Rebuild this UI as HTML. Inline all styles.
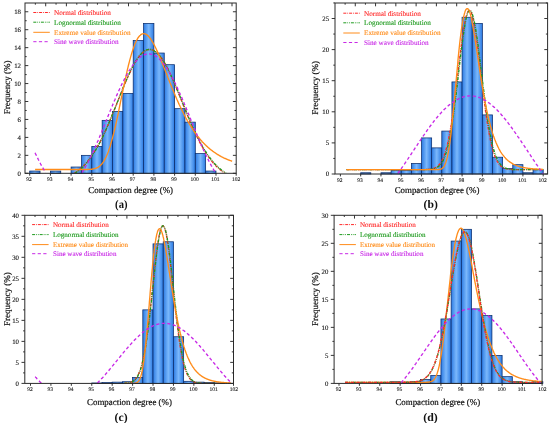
<!DOCTYPE html>
<html><head><meta charset="utf-8"><title>Compaction degree frequency distributions</title>
<style>
html,body{margin:0;padding:0;background:#fff;}
body{width:550px;height:423px;overflow:hidden;}
svg{display:block;text-rendering:geometricPrecision;font-family:"Liberation Serif","DejaVu Serif",serif;}
</style></head><body>
<svg width="550" height="423" viewBox="0 0 550 423">
<defs>
<linearGradient id="bg" x1="0" x2="1" y1="0" y2="0">
<stop offset="0" stop-color="#2c7be3"/><stop offset="0.5" stop-color="#7bb8fc"/><stop offset="1" stop-color="#2c7be3"/>
</linearGradient>
</defs>
<g>
<rect width="550" height="423" fill="#fff"/>
<g class="panel">
<clipPath id="cp0"><rect x="25.00" y="3.00" width="211.20" height="170.30"/></clipPath>
<g fill="url(#bg)" stroke="#0a2c6c" stroke-width="0.75">
<rect x="29.70" y="171.06" width="10.35" height="2.24"/>
<rect x="50.40" y="171.06" width="10.35" height="2.24"/>
<rect x="71.10" y="167.02" width="10.35" height="6.28"/>
<rect x="81.45" y="155.35" width="10.35" height="17.95"/>
<rect x="91.80" y="146.38" width="10.35" height="26.92"/>
<rect x="102.15" y="120.35" width="10.35" height="52.95"/>
<rect x="112.50" y="111.37" width="10.35" height="61.93"/>
<rect x="122.85" y="93.42" width="10.35" height="79.88"/>
<rect x="133.20" y="40.47" width="10.35" height="132.83"/>
<rect x="143.55" y="23.42" width="10.35" height="149.88"/>
<rect x="153.90" y="53.04" width="10.35" height="120.27"/>
<rect x="164.25" y="64.70" width="10.35" height="108.60"/>
<rect x="174.60" y="108.68" width="10.35" height="64.62"/>
<rect x="184.95" y="122.14" width="10.35" height="51.16"/>
<rect x="195.30" y="153.56" width="10.35" height="19.75"/>
<rect x="205.65" y="171.06" width="10.35" height="2.24"/>
</g>
<g fill="none" stroke-width="1.35" clip-path="url(#cp0)" stroke-linejoin="round">
<path d="M74.3 173.2 L74.9 172.9 L75.4 172.5 L76.0 172.2 L76.5 171.8 L77.0 171.4 L77.6 171.0 L78.1 170.6 L78.7 170.2 L79.2 169.8 L79.7 169.3 L80.3 168.9 L80.8 168.4 L81.4 167.9 L81.9 167.4 L82.4 166.9 L83.0 166.4 L83.5 165.9 L84.1 165.3 L84.6 164.8 L85.1 164.2 L85.7 163.6 L86.2 163.0 L86.8 162.3 L87.3 161.7 L87.8 161.0 L88.4 160.4 L88.9 159.7 L89.5 159.0 L90.0 158.2 L90.5 157.5 L91.1 156.7 L91.6 156.0 L92.2 155.2 L92.7 154.4 L93.2 153.6 L93.8 152.7 L94.3 151.9 L94.9 151.0 L95.4 150.1 L95.9 149.2 L96.5 148.3 L97.0 147.3 L97.6 146.4 L98.1 145.4 L98.6 144.4 L99.2 143.4 L99.7 142.4 L100.3 141.4 L100.8 140.3 L101.3 139.3 L101.9 138.2 L102.4 137.1 L103.0 136.0 L103.5 134.8 L104.0 133.7 L104.6 132.5 L105.1 131.4 L105.7 130.2 L106.2 129.0 L106.7 127.8 L107.3 126.6 L107.8 125.3 L108.4 124.1 L108.9 122.8 L109.4 121.6 L110.0 120.3 L110.5 119.0 L111.1 117.7 L111.6 116.4 L112.1 115.1 L112.7 113.8 L113.2 112.5 L113.8 111.2 L114.3 109.8 L114.8 108.5 L115.4 107.1 L115.9 105.8 L116.5 104.5 L117.0 103.1 L117.5 101.8 L118.1 100.4 L118.6 99.1 L119.2 97.7 L119.7 96.4 L120.2 95.0 L120.8 93.7 L121.3 92.4 L121.9 91.0 L122.4 89.7 L122.9 88.4 L123.5 87.1 L124.0 85.8 L124.6 84.5 L125.1 83.2 L125.6 82.0 L126.2 80.7 L126.7 79.5 L127.3 78.2 L127.8 77.0 L128.3 75.8 L128.9 74.7 L129.4 73.5 L130.0 72.4 L130.5 71.2 L131.0 70.1 L131.6 69.0 L132.1 68.0 L132.7 66.9 L133.2 65.9 L133.7 64.9 L134.3 64.0 L134.8 63.0 L135.4 62.1 L135.9 61.2 L136.4 60.4 L137.0 59.5 L137.5 58.7 L138.1 57.9 L138.6 57.2 L139.1 56.5 L139.7 55.8 L140.2 55.2 L140.8 54.5 L141.3 54.0 L141.8 53.4 L142.4 52.9 L142.9 52.4 L143.5 52.0 L144.0 51.6 L144.5 51.2 L145.1 50.8 L145.6 50.5 L146.2 50.3 L146.7 50.0 L147.2 49.9 L147.8 49.7 L148.3 49.6 L148.9 49.5 L149.4 49.5 L149.9 49.4 L150.5 49.5 L151.0 49.5 L151.6 49.7 L152.1 49.8 L152.6 50.0 L153.2 50.2 L153.7 50.4 L154.3 50.7 L154.8 51.1 L155.3 51.4 L155.9 51.8 L156.4 52.3 L157.0 52.7 L157.5 53.2 L158.0 53.8 L158.6 54.3 L159.1 54.9 L159.7 55.6 L160.2 56.3 L160.7 57.0 L161.3 57.7 L161.8 58.5 L162.4 59.2 L162.9 60.1 L163.4 60.9 L164.0 61.8 L164.5 62.7 L165.1 63.6 L165.6 64.6 L166.1 65.6 L166.7 66.6 L167.2 67.6 L167.8 68.7 L168.3 69.8 L168.8 70.9 L169.4 72.0 L169.9 73.1 L170.5 74.3 L171.0 75.4 L171.5 76.6 L172.1 77.8 L172.6 79.1 L173.2 80.3 L173.7 81.5 L174.2 82.8 L174.8 84.1 L175.3 85.4 L175.9 86.7 L176.4 88.0 L176.9 89.3 L177.5 90.6 L178.0 91.9 L178.6 93.3 L179.1 94.6 L179.6 95.9 L180.2 97.3 L180.7 98.6 L181.3 100.0 L181.8 101.3 L182.3 102.7 L182.9 104.0 L183.4 105.4 L184.0 106.7 L184.5 108.0 L185.0 109.4 L185.6 110.7 L186.1 112.0 L186.7 113.4 L187.2 114.7 L187.7 116.0 L188.3 117.3 L188.8 118.6 L189.4 119.9 L189.9 121.2 L190.4 122.4 L191.0 123.7 L191.5 124.9 L192.1 126.2 L192.6 127.4 L193.1 128.6 L193.7 129.8 L194.2 131.0 L194.8 132.1 L195.3 133.3 L195.8 134.5 L196.4 135.6 L196.9 136.7 L197.5 137.8 L198.0 138.9 L198.5 140.0 L199.1 141.0 L199.6 142.1 L200.2 143.1 L200.7 144.1 L201.2 145.1 L201.8 146.1 L202.3 147.0 L202.9 148.0 L203.4 148.9 L203.9 149.8 L204.5 150.7 L205.0 151.6 L205.6 152.4 L206.1 153.3 L206.6 154.1 L207.2 154.9 L207.7 155.7 L208.3 156.5 L208.8 157.3 L209.3 158.0 L209.9 158.7 L210.4 159.4 L211.0 160.1 L211.5 160.8 L212.0 161.5 L212.6 162.1 L213.1 162.8 L213.7 163.4 L214.2 164.0 L214.7 164.6 L215.3 165.1 L215.8 165.7 L216.4 166.2 L216.9 166.8 L217.4 167.3 L218.0 167.8 L218.5 168.3 L219.1 168.7 L219.6 169.2 L220.1 169.6 L220.7 170.1 L221.2 170.5 L221.8 170.9 L222.3 171.3 L222.8 171.7 L223.4 172.1 L223.9 172.4 L224.5 172.8 L225.0 173.1" stroke="#ff2a2a" stroke-dasharray="3 1 .8 1"/>
<path d="M74.9 173.2 L75.4 172.9 L76.0 172.5 L76.5 172.2 L77.0 171.8 L77.6 171.4 L78.1 171.0 L78.7 170.6 L79.2 170.2 L79.7 169.8 L80.3 169.3 L80.8 168.8 L81.4 168.4 L81.9 167.9 L82.4 167.4 L83.0 166.9 L83.5 166.3 L84.1 165.8 L84.6 165.2 L85.1 164.6 L85.7 164.0 L86.2 163.4 L86.8 162.8 L87.3 162.2 L87.8 161.5 L88.4 160.8 L88.9 160.2 L89.5 159.4 L90.0 158.7 L90.5 158.0 L91.1 157.2 L91.6 156.5 L92.2 155.7 L92.7 154.9 L93.2 154.0 L93.8 153.2 L94.3 152.4 L94.9 151.5 L95.4 150.6 L95.9 149.7 L96.5 148.8 L97.0 147.8 L97.6 146.9 L98.1 145.9 L98.6 144.9 L99.2 143.9 L99.7 142.8 L100.3 141.8 L100.8 140.7 L101.3 139.7 L101.9 138.6 L102.4 137.5 L103.0 136.4 L103.5 135.2 L104.0 134.1 L104.6 132.9 L105.1 131.7 L105.7 130.5 L106.2 129.3 L106.7 128.1 L107.3 126.9 L107.8 125.6 L108.4 124.4 L108.9 123.1 L109.4 121.8 L110.0 120.5 L110.5 119.2 L111.1 117.9 L111.6 116.6 L112.1 115.3 L112.7 114.0 L113.2 112.6 L113.8 111.3 L114.3 109.9 L114.8 108.6 L115.4 107.2 L115.9 105.9 L116.5 104.5 L117.0 103.1 L117.5 101.8 L118.1 100.4 L118.6 99.0 L119.2 97.7 L119.7 96.3 L120.2 95.0 L120.8 93.6 L121.3 92.2 L121.9 90.9 L122.4 89.6 L122.9 88.2 L123.5 86.9 L124.0 85.6 L124.6 84.3 L125.1 83.0 L125.6 81.7 L126.2 80.5 L126.7 79.2 L127.3 78.0 L127.8 76.7 L128.3 75.5 L128.9 74.3 L129.4 73.2 L130.0 72.0 L130.5 70.9 L131.0 69.8 L131.6 68.7 L132.1 67.6 L132.7 66.6 L133.2 65.5 L133.7 64.5 L134.3 63.6 L134.8 62.6 L135.4 61.7 L135.9 60.8 L136.4 60.0 L137.0 59.1 L137.5 58.3 L138.1 57.6 L138.6 56.8 L139.1 56.1 L139.7 55.5 L140.2 54.8 L140.8 54.2 L141.3 53.6 L141.8 53.1 L142.4 52.6 L142.9 52.1 L143.5 51.7 L144.0 51.3 L144.5 51.0 L145.1 50.6 L145.6 50.4 L146.2 50.1 L146.7 49.9 L147.2 49.7 L147.8 49.6 L148.3 49.5 L148.9 49.5 L149.4 49.4 L149.9 49.5 L150.5 49.5 L151.0 49.6 L151.6 49.7 L152.1 49.9 L152.6 50.1 L153.2 50.3 L153.7 50.6 L154.3 50.9 L154.8 51.3 L155.3 51.6 L155.9 52.1 L156.4 52.5 L157.0 53.0 L157.5 53.5 L158.0 54.0 L158.6 54.6 L159.1 55.2 L159.7 55.9 L160.2 56.5 L160.7 57.2 L161.3 58.0 L161.8 58.7 L162.4 59.5 L162.9 60.3 L163.4 61.2 L164.0 62.0 L164.5 62.9 L165.1 63.8 L165.6 64.8 L166.1 65.8 L166.7 66.8 L167.2 67.8 L167.8 68.8 L168.3 69.9 L168.8 70.9 L169.4 72.0 L169.9 73.2 L170.5 74.3 L171.0 75.4 L171.5 76.6 L172.1 77.8 L172.6 79.0 L173.2 80.2 L173.7 81.4 L174.2 82.7 L174.8 83.9 L175.3 85.2 L175.9 86.4 L176.4 87.7 L176.9 89.0 L177.5 90.3 L178.0 91.6 L178.6 92.9 L179.1 94.2 L179.6 95.5 L180.2 96.8 L180.7 98.2 L181.3 99.5 L181.8 100.8 L182.3 102.1 L182.9 103.5 L183.4 104.8 L184.0 106.1 L184.5 107.4 L185.0 108.7 L185.6 110.0 L186.1 111.3 L186.7 112.6 L187.2 113.9 L187.7 115.2 L188.3 116.5 L188.8 117.8 L189.4 119.1 L189.9 120.3 L190.4 121.6 L191.0 122.8 L191.5 124.0 L192.1 125.2 L192.6 126.5 L193.1 127.7 L193.7 128.8 L194.2 130.0 L194.8 131.2 L195.3 132.3 L195.8 133.5 L196.4 134.6 L196.9 135.7 L197.5 136.8 L198.0 137.9 L198.5 138.9 L199.1 140.0 L199.6 141.0 L200.2 142.0 L200.7 143.0 L201.2 144.0 L201.8 145.0 L202.3 146.0 L202.9 146.9 L203.4 147.8 L203.9 148.8 L204.5 149.7 L205.0 150.5 L205.6 151.4 L206.1 152.2 L206.6 153.1 L207.2 153.9 L207.7 154.7 L208.3 155.5 L208.8 156.2 L209.3 157.0 L209.9 157.7 L210.4 158.5 L211.0 159.2 L211.5 159.8 L212.0 160.5 L212.6 161.2 L213.1 161.8 L213.7 162.4 L214.2 163.1 L214.7 163.7 L215.3 164.2 L215.8 164.8 L216.4 165.4 L216.9 165.9 L217.4 166.4 L218.0 166.9 L218.5 167.4 L219.1 167.9 L219.6 168.4 L220.1 168.9 L220.7 169.3 L221.2 169.7 L221.8 170.2 L222.3 170.6 L222.8 171.0 L223.4 171.4 L223.9 171.7 L224.5 172.1 L225.0 172.5 L225.5 172.8 L226.1 173.1" stroke="#1e9a1e" stroke-dasharray="3 1 .8 1 .8 1"/>
<path d="M35.1 169.5 L35.6 169.5 L36.1 169.5 L36.6 169.5 L37.1 169.5 L37.6 169.5 L38.0 169.5 L38.5 169.5 L39.0 169.5 L39.5 169.5 L40.0 169.5 L40.5 169.5 L41.0 169.5 L41.5 169.5 L42.0 169.5 L42.5 169.5 L43.0 169.5 L43.5 169.5 L44.0 169.5 L44.5 169.5 L45.0 169.5 L45.5 169.5 L45.9 169.5 L46.4 169.5 L46.9 169.5 L47.4 169.5 L47.9 169.5 L48.4 169.5 L48.9 169.5 L49.4 169.5 L49.9 169.5 L50.4 169.5 L50.9 169.5 L51.4 169.5 L51.9 169.5 L52.4 169.5 L52.9 169.5 L53.4 169.5 L53.9 169.5 L54.3 169.5 L54.8 169.5 L55.3 169.5 L55.8 169.5 L56.3 169.5 L56.8 169.5 L57.3 169.5 L57.8 169.5 L58.3 169.5 L58.8 169.5 L59.3 169.5 L59.8 169.5 L60.3 169.5 L60.8 169.5 L61.3 169.5 L61.8 169.5 L62.2 169.5 L62.7 169.5 L63.2 169.5 L63.7 169.5 L64.2 169.5 L64.7 169.5 L65.2 169.5 L65.7 169.5 L66.2 169.5 L66.7 169.5 L67.2 169.5 L67.7 169.5 L68.2 169.5 L68.7 169.5 L69.2 169.5 L69.7 169.5 L70.1 169.5 L70.6 169.5 L71.1 169.5 L71.6 169.5 L72.1 169.5 L72.6 169.5 L73.1 169.5 L73.6 169.5 L74.1 169.5 L74.6 169.5 L75.1 169.5 L75.6 169.5 L76.1 169.5 L76.6 169.5 L77.1 169.5 L77.6 169.5 L78.1 169.5 L78.5 169.5 L79.0 169.5 L79.5 169.5 L80.0 169.5 L80.5 169.5 L81.0 169.5 L81.5 169.5 L82.0 169.5 L82.5 169.5 L83.0 169.5 L83.5 169.5 L84.0 169.5 L84.5 169.5 L85.0 169.5 L85.5 169.5 L86.0 169.5 L86.4 169.5 L86.9 169.5 L87.4 169.5 L87.9 169.5 L88.4 169.4 L88.9 169.4 L89.4 169.4 L89.9 169.4 L90.4 169.3 L90.9 169.3 L91.4 169.2 L91.9 169.2 L92.4 169.1 L92.9 169.0 L93.4 168.9 L93.9 168.8 L94.3 168.7 L94.8 168.6 L95.3 168.4 L95.8 168.3 L96.3 168.1 L96.8 167.9 L97.3 167.6 L97.8 167.4 L98.3 167.1 L98.8 166.7 L99.3 166.4 L99.8 166.0 L100.3 165.6 L100.8 165.1 L101.3 164.6 L101.8 164.0 L102.3 163.4 L102.7 162.8 L103.2 162.1 L103.7 161.3 L104.2 160.5 L104.7 159.6 L105.2 158.7 L105.7 157.7 L106.2 156.7 L106.7 155.6 L107.2 154.4 L107.7 153.2 L108.2 151.9 L108.7 150.5 L109.2 149.1 L109.7 147.6 L110.2 146.1 L110.6 144.5 L111.1 142.8 L111.6 141.1 L112.1 139.3 L112.6 137.4 L113.1 135.5 L113.6 133.6 L114.1 131.6 L114.6 129.5 L115.1 127.4 L115.6 125.3 L116.1 123.1 L116.6 120.8 L117.1 118.6 L117.6 116.3 L118.1 114.0 L118.6 111.6 L119.0 109.3 L119.5 106.9 L120.0 104.5 L120.5 102.1 L121.0 99.7 L121.5 97.3 L122.0 94.9 L122.5 92.5 L123.0 90.1 L123.5 87.7 L124.0 85.4 L124.5 83.0 L125.0 80.7 L125.5 78.4 L126.0 76.2 L126.5 74.0 L126.9 71.8 L127.4 69.7 L127.9 67.6 L128.4 65.5 L128.9 63.5 L129.4 61.6 L129.9 59.7 L130.4 57.9 L130.9 56.1 L131.4 54.4 L131.9 52.8 L132.4 51.2 L132.9 49.7 L133.4 48.2 L133.9 46.8 L134.4 45.5 L134.8 44.3 L135.3 43.1 L135.8 42.0 L136.3 40.9 L136.8 40.0 L137.3 39.1 L137.8 38.2 L138.3 37.5 L138.8 36.8 L139.3 36.2 L139.8 35.6 L140.3 35.2 L140.8 34.7 L141.3 34.4 L141.8 34.1 L142.3 33.9 L142.8 33.8 L143.2 33.7 L143.7 33.6 L144.2 33.7 L144.7 33.8 L145.2 33.9 L145.7 34.1 L146.2 34.4 L146.7 34.7 L147.2 35.1 L147.7 35.5 L148.2 36.0 L148.7 36.5 L149.2 37.1 L149.7 37.7 L150.2 38.3 L150.7 39.0 L151.1 39.7 L151.6 40.5 L152.1 41.3 L152.6 42.1 L153.1 43.0 L153.6 43.9 L154.1 44.8 L154.6 45.8 L155.1 46.8 L155.6 47.8 L156.1 48.8 L156.6 49.9 L157.1 50.9 L157.6 52.0 L158.1 53.2 L158.6 54.3 L159.0 55.4 L159.5 56.6 L160.0 57.8 L160.5 59.0 L161.0 60.2 L161.5 61.4 L162.0 62.6 L162.5 63.8 L163.0 65.1 L163.5 66.3 L164.0 67.6 L164.5 68.8 L165.0 70.1 L165.5 71.3 L166.0 72.6 L166.5 73.8 L167.0 75.1 L167.4 76.3 L167.9 77.6 L168.4 78.8 L168.9 80.1 L169.4 81.3 L169.9 82.6 L170.4 83.8 L170.9 85.0 L171.4 86.2 L171.9 87.5 L172.4 88.7 L172.9 89.9 L173.4 91.1 L173.9 92.3 L174.4 93.4 L174.9 94.6 L175.3 95.8 L175.8 96.9 L176.3 98.0 L176.8 99.2 L177.3 100.3 L177.8 101.4 L178.3 102.5 L178.8 103.6 L179.3 104.7 L179.8 105.7 L180.3 106.8 L180.8 107.8 L181.3 108.8 L181.8 109.9 L182.3 110.9 L182.8 111.9 L183.3 112.8 L183.7 113.8 L184.2 114.8 L184.7 115.7 L185.2 116.6 L185.7 117.6 L186.2 118.5 L186.7 119.4 L187.2 120.3 L187.7 121.1 L188.2 122.0 L188.7 122.8 L189.2 123.7 L189.7 124.5 L190.2 125.3 L190.7 126.1 L191.2 126.9 L191.6 127.7 L192.1 128.4 L192.6 129.2 L193.1 129.9 L193.6 130.6 L194.1 131.4 L194.6 132.1 L195.1 132.8 L195.6 133.4 L196.1 134.1 L196.6 134.8 L197.1 135.4 L197.6 136.1 L198.1 136.7 L198.6 137.3 L199.1 137.9 L199.5 138.5 L200.0 139.1 L200.5 139.7 L201.0 140.3 L201.5 140.8 L202.0 141.4 L202.5 141.9 L203.0 142.4 L203.5 143.0 L204.0 143.5 L204.5 144.0 L205.0 144.5 L205.5 145.0 L206.0 145.4 L206.5 145.9 L207.0 146.4 L207.5 146.8 L207.9 147.3 L208.4 147.7 L208.9 148.1 L209.4 148.5 L209.9 149.0 L210.4 149.4 L210.9 149.8 L211.4 150.1 L211.9 150.5 L212.4 150.9 L212.9 151.3 L213.4 151.6 L213.9 152.0 L214.4 152.3 L214.9 152.7 L215.4 153.0 L215.8 153.3 L216.3 153.7 L216.8 154.0 L217.3 154.3 L217.8 154.6 L218.3 154.9 L218.8 155.2 L219.3 155.5 L219.8 155.8 L220.3 156.0 L220.8 156.3 L221.3 156.6 L221.8 156.8 L222.3 157.1 L222.8 157.3 L223.3 157.6 L223.7 157.8 L224.2 158.1 L224.7 158.3 L225.2 158.5 L225.7 158.7 L226.2 159.0 L226.7 159.2 L227.2 159.4 L227.7 159.6 L228.2 159.8 L228.7 160.0 L229.2 160.2 L229.7 160.4 L230.2 160.6 L230.7 160.7 L231.2 160.9 L231.7 161.1 L232.1 161.3" stroke="#ff8c1a"/>
<path d="M35.1 152.8 L35.5 153.8 L36.0 154.7 L36.5 155.7 L36.9 156.7 L37.4 157.6 L37.9 158.6 L38.3 159.5 L38.8 160.4 L39.3 161.3 L39.7 162.2 L40.2 163.1 L40.6 164.0 L41.1 164.8 L41.6 165.7 L42.0 166.5 L42.5 167.3 L43.0 168.1 L43.4 168.9 L43.9 169.7 L44.4 170.5 L44.8 171.2 L45.3 172.0 L45.7 172.7 M81.9 172.7 L82.4 172.0 L82.9 171.2 L83.3 170.5 L83.8 169.7 L84.2 169.0 L84.7 168.2 L85.2 167.4 L85.6 166.5 L86.1 165.7 L86.6 164.9 L87.0 164.0 L87.5 163.1 L88.0 162.3 L88.4 161.4 L88.9 160.5 L89.3 159.5 L89.8 158.6 L90.3 157.7 L90.7 156.7 L91.2 155.7 L91.7 154.8 L92.1 153.8 L92.6 152.8 L93.1 151.8 L93.5 150.8 L94.0 149.8 L94.4 148.7 L94.9 147.7 L95.4 146.6 L95.8 145.6 L96.3 144.5 L96.8 143.5 L97.2 142.4 L97.7 141.3 L98.2 140.2 L98.6 139.1 L99.1 138.0 L99.6 136.9 L100.0 135.8 L100.5 134.7 L100.9 133.6 L101.4 132.5 L101.9 131.3 L102.3 130.2 L102.8 129.1 L103.3 127.9 L103.7 126.8 L104.2 125.7 L104.7 124.5 L105.1 123.4 L105.6 122.2 L106.0 121.1 L106.5 119.9 L107.0 118.8 L107.4 117.7 L107.9 116.5 L108.4 115.4 L108.8 114.2 L109.3 113.1 L109.8 112.0 L110.2 110.8 L110.7 109.7 L111.1 108.6 L111.6 107.5 L112.1 106.3 L112.5 105.2 L113.0 104.1 L113.5 103.0 L113.9 101.9 L114.4 100.8 L114.9 99.7 L115.3 98.7 L115.8 97.6 L116.2 96.5 L116.7 95.4 L117.2 94.4 L117.6 93.3 L118.1 92.3 L118.6 91.3 L119.0 90.3 L119.5 89.2 L120.0 88.2 L120.4 87.2 L120.9 86.3 L121.3 85.3 L121.8 84.3 L122.3 83.4 L122.7 82.4 L123.2 81.5 L123.7 80.6 L124.1 79.7 L124.6 78.8 L125.1 77.9 L125.5 77.0 L126.0 76.1 L126.5 75.3 L126.9 74.5 L127.4 73.6 L127.8 72.8 L128.3 72.1 L128.8 71.3 L129.2 70.5 L129.7 69.8 L130.2 69.0 L130.6 68.3 L131.1 67.6 L131.6 66.9 L132.0 66.3 L132.5 65.6 L132.9 65.0 L133.4 64.3 L133.9 63.7 L134.3 63.1 L134.8 62.6 L135.3 62.0 L135.7 61.5 L136.2 61.0 L136.7 60.5 L137.1 60.0 L137.6 59.5 L138.0 59.1 L138.5 58.6 L139.0 58.2 L139.4 57.8 L139.9 57.4 L140.4 57.1 L140.8 56.7 L141.3 56.4 L141.8 56.1 L142.2 55.8 L142.7 55.6 L143.1 55.3 L143.6 55.1 L144.1 54.9 L144.5 54.7 L145.0 54.5 L145.5 54.4 L145.9 54.3 L146.4 54.2 L146.9 54.1 L147.3 54.0 L147.8 53.9 L148.3 53.9 L148.7 53.9 L149.2 53.9 L149.6 53.9 L150.1 54.0 L150.6 54.1 L151.0 54.1 L151.5 54.3 L152.0 54.4 L152.4 54.5 L152.9 54.7 L153.4 54.9 L153.8 55.1 L154.3 55.3 L154.7 55.5 L155.2 55.8 L155.7 56.1 L156.1 56.4 L156.6 56.7 L157.1 57.0 L157.5 57.4 L158.0 57.8 L158.5 58.2 L158.9 58.6 L159.4 59.0 L159.8 59.4 L160.3 59.9 L160.8 60.4 L161.2 60.9 L161.7 61.4 L162.2 61.9 L162.6 62.5 L163.1 63.1 L163.6 63.7 L164.0 64.3 L164.5 64.9 L164.9 65.5 L165.4 66.2 L165.9 66.8 L166.3 67.5 L166.8 68.2 L167.3 68.9 L167.7 69.7 L168.2 70.4 L168.7 71.2 L169.1 71.9 L169.6 72.7 L170.0 73.5 L170.5 74.4 L171.0 75.2 L171.4 76.0 L171.9 76.9 L172.4 77.8 L172.8 78.6 L173.3 79.5 L173.8 80.4 L174.2 81.4 L174.7 82.3 L175.2 83.2 L175.6 84.2 L176.1 85.1 L176.5 86.1 L177.0 87.1 L177.5 88.1 L177.9 89.1 L178.4 90.1 L178.9 91.1 L179.3 92.2 L179.8 93.2 L180.3 94.2 L180.7 95.3 L181.2 96.4 L181.6 97.4 L182.1 98.5 L182.6 99.6 L183.0 100.7 L183.5 101.8 L184.0 102.9 L184.4 104.0 L184.9 105.1 L185.4 106.2 L185.8 107.3 L186.3 108.4 L186.7 109.6 L187.2 110.7 L187.7 111.8 L188.1 113.0 L188.6 114.1 L189.1 115.2 L189.5 116.4 L190.0 117.5 L190.5 118.7 L190.9 119.8 L191.4 120.9 L191.8 122.1 L192.3 123.2 L192.8 124.4 L193.2 125.5 L193.7 126.6 L194.2 127.8 L194.6 128.9 L195.1 130.0 L195.6 131.2 L196.0 132.3 L196.5 133.4 L196.9 134.5 L197.4 135.7 L197.9 136.8 L198.3 137.9 L198.8 139.0 L199.3 140.1 L199.7 141.2 L200.2 142.2 L200.7 143.3 L201.1 144.4 L201.6 145.4 L202.1 146.5 L202.5 147.5 L203.0 148.6 L203.4 149.6 L203.9 150.6 L204.4 151.7 L204.8 152.7 L205.3 153.7 L205.8 154.6 L206.2 155.6 L206.7 156.6 L207.2 157.5 L207.6 158.5 L208.1 159.4 L208.5 160.3 L209.0 161.2 L209.5 162.1 L209.9 163.0 L210.4 163.9 L210.9 164.8 L211.3 165.6 L211.8 166.4 L212.3 167.3 L212.7 168.1 L213.2 168.9 L213.6 169.6 L214.1 170.4 L214.6 171.1 L215.0 171.9 L215.5 172.6 L216.0 173.3" stroke="#c828e6" stroke-dasharray="3.2 2.4"/>
</g>
<rect x="25.00" y="3.00" width="211.20" height="170.30" fill="none" stroke="#2a2a2a" stroke-width="1"/>
<path d="M29.70 173.30 v2.40 M50.40 173.30 v2.40 M71.10 173.30 v2.40 M91.80 173.30 v2.40 M112.50 173.30 v2.40 M133.20 173.30 v2.40 M153.90 173.30 v2.40 M174.60 173.30 v2.40 M195.30 173.30 v2.40 M216.00 173.30 v2.40 M236.20 173.30 v2.40 M35.35 3.00 v1.70 M45.70 3.00 v3.30 M56.05 3.00 v1.70 M66.40 3.00 v3.30 M76.75 3.00 v1.70 M87.10 3.00 v3.30 M97.45 3.00 v1.70 M107.80 3.00 v3.30 M118.15 3.00 v1.70 M128.50 3.00 v3.30 M138.85 3.00 v1.70 M149.20 3.00 v3.30 M159.55 3.00 v1.70 M169.90 3.00 v3.30 M180.25 3.00 v1.70 M190.60 3.00 v3.30 M200.95 3.00 v1.70 M211.30 3.00 v3.30 M221.65 3.00 v1.70 M232.00 3.00 v3.30 M25.00 173.30 h3.30 M236.20 173.30 h-3.30 M25.00 164.33 h1.70 M236.20 164.33 h-1.70 M25.00 155.35 h3.30 M236.20 155.35 h-3.30 M25.00 146.38 h1.70 M236.20 146.38 h-1.70 M25.00 137.40 h3.30 M236.20 137.40 h-3.30 M25.00 128.43 h1.70 M236.20 128.43 h-1.70 M25.00 119.45 h3.30 M236.20 119.45 h-3.30 M25.00 110.48 h1.70 M236.20 110.48 h-1.70 M25.00 101.50 h3.30 M236.20 101.50 h-3.30 M25.00 92.53 h1.70 M236.20 92.53 h-1.70 M25.00 83.55 h3.30 M236.20 83.55 h-3.30 M25.00 74.58 h1.70 M236.20 74.58 h-1.70 M25.00 65.60 h3.30 M236.20 65.60 h-3.30 M25.00 56.63 h1.70 M236.20 56.63 h-1.70 M25.00 47.65 h3.30 M236.20 47.65 h-3.30 M25.00 38.68 h1.70 M236.20 38.68 h-1.70 M25.00 29.70 h3.30 M236.20 29.70 h-3.30 M25.00 20.73 h1.70 M236.20 20.73 h-1.70 M25.00 11.75 h3.30 M236.20 11.75 h-3.30" stroke="#2a2a2a" stroke-width="0.95" fill="none"/>
<g font-size="5.5" text-anchor="middle" fill="#222" stroke="#222" stroke-width="0.1">
<text x="29.10" y="181.20">92</text>
<text x="49.80" y="181.20">93</text>
<text x="70.50" y="181.20">94</text>
<text x="91.20" y="181.20">95</text>
<text x="111.90" y="181.20">96</text>
<text x="132.60" y="181.20">97</text>
<text x="153.30" y="181.20">98</text>
<text x="174.00" y="181.20">99</text>
<text x="194.70" y="181.20">100</text>
<text x="215.40" y="181.20">101</text>
<text x="236.10" y="181.20">102</text>
</g>
<g font-size="6.8" text-anchor="end" fill="#111" stroke="#111" stroke-width="0.12">
<text x="21.00" y="175.65">0</text>
<text x="21.00" y="157.70">2</text>
<text x="21.00" y="139.75">4</text>
<text x="21.00" y="121.80">6</text>
<text x="21.00" y="103.85">8</text>
<text x="21.00" y="85.90">10</text>
<text x="21.00" y="67.95">12</text>
<text x="21.00" y="50.00">14</text>
<text x="21.00" y="32.05">16</text>
<text x="21.00" y="14.10">18</text>
</g>
<text x="130.70" y="192.50" font-size="8.9" text-anchor="middle" fill="#111" stroke="#111" stroke-width="0.18">Compaction degree (%)</text>
<text transform="translate(9.90 87.30) rotate(-90)" font-size="9" text-anchor="middle" fill="#111" stroke="#111" stroke-width="0.18">Frequency (%)</text>
<path d="M33.30 12.50 h16.5" stroke="#ff2a2a" stroke-width="1" fill="none" stroke-dasharray="3 1 .8 1"/>
<text x="54.00" y="14.90" font-size="7.20" fill="#ff2a2a" stroke="#ff2a2a" stroke-width="0.12">Normal distribution</text>
<path d="M33.30 22.20 h16.5" stroke="#1e9a1e" stroke-width="1" fill="none" stroke-dasharray="3 1 .8 1 .8 1"/>
<text x="54.00" y="24.60" font-size="7.20" fill="#1e9a1e" stroke="#1e9a1e" stroke-width="0.12">Lognormal distribution</text>
<path d="M33.30 32.30 h16.5" stroke="#ff8c1a" stroke-width="1" fill="none"/>
<text x="54.00" y="34.70" font-size="7.20" fill="#ff8c1a" stroke="#ff8c1a" stroke-width="0.12">Extreme value distribution</text>
<path d="M33.30 41.70 h16.5" stroke="#c828e6" stroke-width="1" fill="none" stroke-dasharray="3.2 2.4"/>
<text x="54.00" y="44.10" font-size="7.20" fill="#c828e6" stroke="#c828e6" stroke-width="0.12">Sine wave distribution</text>
<text x="121.30" y="208.10" font-size="11.5" font-weight="bold" text-anchor="middle" textLength="12.4" lengthAdjust="spacingAndGlyphs" fill="#111">(a)</text>
</g>
<g class="panel">
<clipPath id="cp1"><rect x="335.00" y="3.00" width="212.60" height="171.00"/></clipPath>
<g fill="url(#bg)" stroke="#0a2c6c" stroke-width="0.75">
<rect x="360.68" y="172.76" width="10.14" height="1.24"/>
<rect x="380.96" y="172.76" width="10.14" height="1.24"/>
<rect x="391.10" y="170.27" width="10.14" height="3.73"/>
<rect x="401.24" y="170.27" width="10.14" height="3.73"/>
<rect x="411.38" y="163.43" width="10.14" height="10.57"/>
<rect x="421.52" y="137.92" width="10.14" height="36.08"/>
<rect x="431.66" y="147.88" width="10.14" height="26.12"/>
<rect x="441.80" y="131.08" width="10.14" height="42.92"/>
<rect x="451.94" y="81.94" width="10.14" height="92.06"/>
<rect x="462.08" y="17.26" width="10.14" height="156.74"/>
<rect x="472.22" y="23.48" width="10.14" height="150.52"/>
<rect x="482.36" y="114.91" width="10.14" height="59.09"/>
<rect x="492.50" y="157.21" width="10.14" height="16.79"/>
<rect x="502.64" y="168.40" width="10.14" height="5.60"/>
<rect x="512.78" y="164.67" width="10.14" height="9.33"/>
<rect x="522.92" y="172.76" width="10.14" height="1.24"/>
<rect x="533.06" y="169.65" width="10.14" height="4.35"/>
</g>
<g fill="none" stroke-width="1.35" clip-path="url(#cp1)" stroke-linejoin="round">
<path d="M346.5 169.6 L346.9 169.6 L347.3 169.6 L347.7 169.6 L348.1 169.6 L348.5 169.6 L348.8 169.6 L349.2 169.6 L349.6 169.6 L350.0 169.6 L350.4 169.6 L350.8 169.6 L351.2 169.6 L351.6 169.6 L352.0 169.6 L352.4 169.6 L352.8 169.6 L353.2 169.6 L353.6 169.6 L354.0 169.6 L354.4 169.6 L354.8 169.6 L355.2 169.6 L355.6 169.6 L355.9 169.6 L356.3 169.6 L356.7 169.6 L357.1 169.6 L357.5 169.6 L357.9 169.6 L358.3 169.6 L358.7 169.6 L359.1 169.6 L359.5 169.6 L359.9 169.6 L360.3 169.6 L360.7 169.6 L361.1 169.6 L361.5 169.6 L361.9 169.6 L362.3 169.6 L362.6 169.6 L363.0 169.6 L363.4 169.6 L363.8 169.6 L364.2 169.6 L364.6 169.6 L365.0 169.6 L365.4 169.6 L365.8 169.6 L366.2 169.6 L366.6 169.6 L367.0 169.6 L367.4 169.6 L367.8 169.6 L368.2 169.6 L368.6 169.6 L369.0 169.6 L369.3 169.6 L369.7 169.6 L370.1 169.6 L370.5 169.6 L370.9 169.6 L371.3 169.6 L371.7 169.6 L372.1 169.6 L372.5 169.6 L372.9 169.6 L373.3 169.6 L373.7 169.6 L374.1 169.6 L374.5 169.6 L374.9 169.6 L375.3 169.6 L375.7 169.6 L376.1 169.6 L376.4 169.6 L376.8 169.6 L377.2 169.6 L377.6 169.6 L378.0 169.6 L378.4 169.6 L378.8 169.6 L379.2 169.6 L379.6 169.6 L380.0 169.6 L380.4 169.6 L380.8 169.6 L381.2 169.6 L381.6 169.6 L382.0 169.6 L382.4 169.6 L382.8 169.6 L383.1 169.6 L383.5 169.6 L383.9 169.6 L384.3 169.6 L384.7 169.6 L385.1 169.6 L385.5 169.6 L385.9 169.6 L386.3 169.6 L386.7 169.6 L387.1 169.6 L387.5 169.6 L387.9 169.6 L388.3 169.6 L388.7 169.6 L389.1 169.6 L389.5 169.6 L389.8 169.6 L390.2 169.6 L390.6 169.6 L391.0 169.6 L391.4 169.6 L391.8 169.6 L392.2 169.6 L392.6 169.6 L393.0 169.6 L393.4 169.6 L393.8 169.6 L394.2 169.6 L394.6 169.6 L395.0 169.6 L395.4 169.6 L395.8 169.6 L396.2 169.6 L396.5 169.6 L396.9 169.6 L397.3 169.6 L397.7 169.6 L398.1 169.6 L398.5 169.6 L398.9 169.6 L399.3 169.6 L399.7 169.6 L400.1 169.6 L400.5 169.6 L400.9 169.6 L401.3 169.6 L401.7 169.6 L402.1 169.6 L402.5 169.6 L402.9 169.6 L403.3 169.6 L403.6 169.6 L404.0 169.6 L404.4 169.6 L404.8 169.6 L405.2 169.6 L405.6 169.6 L406.0 169.6 L406.4 169.6 L406.8 169.6 L407.2 169.6 L407.6 169.6 L408.0 169.6 L408.4 169.6 L408.8 169.6 L409.2 169.6 L409.6 169.6 L410.0 169.6 L410.3 169.6 L410.7 169.6 L411.1 169.6 L411.5 169.6 L411.9 169.6 L412.3 169.6 L412.7 169.6 L413.1 169.6 L413.5 169.6 L413.9 169.6 L414.3 169.6 L414.7 169.6 L415.1 169.6 L415.5 169.6 L415.9 169.6 L416.3 169.6 L416.7 169.6 L417.0 169.6 L417.4 169.6 L417.8 169.6 L418.2 169.6 L418.6 169.6 L419.0 169.6 L419.4 169.6 L419.8 169.6 L420.2 169.6 L420.6 169.6 L421.0 169.6 L421.4 169.6 L421.8 169.6 L422.2 169.6 L422.6 169.6 L423.0 169.6 L423.4 169.6 L423.8 169.6 L424.1 169.6 L424.5 169.6 L424.9 169.6 L425.3 169.5 L425.7 169.5 L426.1 169.5 L426.5 169.5 L426.9 169.5 L427.3 169.5 L427.7 169.4 L428.1 169.4 L428.5 169.4 L428.9 169.3 L429.3 169.3 L429.7 169.3 L430.1 169.2 L430.5 169.1 L430.8 169.1 L431.2 169.0 L431.6 168.9 L432.0 168.9 L432.4 168.8 L432.8 168.7 L433.2 168.6 L433.6 168.4 L434.0 168.3 L434.4 168.1 L434.8 168.0 L435.2 167.8 L435.6 167.6 L436.0 167.4 L436.4 167.1 L436.8 166.9 L437.2 166.6 L437.5 166.3 L437.9 166.0 L438.3 165.6 L438.7 165.2 L439.1 164.8 L439.5 164.3 L439.9 163.8 L440.3 163.3 L440.7 162.7 L441.1 162.1 L441.5 161.4 L441.9 160.7 L442.3 159.9 L442.7 159.1 L443.1 158.2 L443.5 157.3 L443.9 156.3 L444.3 155.3 L444.6 154.2 L445.0 153.0 L445.4 151.7 L445.8 150.4 L446.2 149.0 L446.6 147.5 L447.0 146.0 L447.4 144.3 L447.8 142.6 L448.2 140.8 L448.6 139.0 L449.0 137.0 L449.4 135.0 L449.8 132.8 L450.2 130.6 L450.6 128.3 L451.0 126.0 L451.3 123.5 L451.7 121.0 L452.1 118.3 L452.5 115.7 L452.9 112.9 L453.3 110.0 L453.7 107.1 L454.1 104.2 L454.5 101.1 L454.9 98.0 L455.3 94.9 L455.7 91.7 L456.1 88.5 L456.5 85.2 L456.9 82.0 L457.3 78.6 L457.7 75.3 L458.0 72.0 L458.4 68.7 L458.8 65.4 L459.2 62.1 L459.6 58.8 L460.0 55.6 L460.4 52.4 L460.8 49.3 L461.2 46.2 L461.6 43.2 L462.0 40.3 L462.4 37.5 L462.8 34.8 L463.2 32.1 L463.6 29.6 L464.0 27.3 L464.4 25.0 L464.8 22.9 L465.1 20.9 L465.5 19.1 L465.9 17.5 L466.3 16.0 L466.7 14.6 L467.1 13.5 L467.5 12.5 L467.9 11.7 L468.3 11.1 L468.7 10.7 L469.1 10.5 L469.5 10.4 L469.9 10.6 L470.3 10.9 L470.7 11.4 L471.1 12.1 L471.5 13.0 L471.8 14.1 L472.2 15.3 L472.6 16.7 L473.0 18.3 L473.4 20.0 L473.8 21.9 L474.2 24.0 L474.6 26.1 L475.0 28.5 L475.4 30.9 L475.8 33.5 L476.2 36.1 L476.6 38.9 L477.0 41.8 L477.4 44.7 L477.8 47.8 L478.2 50.9 L478.5 54.0 L478.9 57.2 L479.3 60.5 L479.7 63.8 L480.1 67.1 L480.5 70.4 L480.9 73.7 L481.3 77.0 L481.7 80.3 L482.1 83.6 L482.5 86.9 L482.9 90.1 L483.3 93.3 L483.7 96.5 L484.1 99.6 L484.5 102.7 L484.9 105.7 L485.2 108.6 L485.6 111.5 L486.0 114.3 L486.4 117.0 L486.8 119.7 L487.2 122.3 L487.6 124.8 L488.0 127.2 L488.4 129.5 L488.8 131.8 L489.2 133.9 L489.6 136.0 L490.0 138.0 L490.4 139.9 L490.8 141.8 L491.2 143.5 L491.6 145.2 L492.0 146.8 L492.3 148.3 L492.7 149.7 L493.1 151.1 L493.5 152.4 L493.9 153.6 L494.3 154.7 L494.7 155.8 L495.1 156.8 L495.5 157.8 L495.9 158.7 L496.3 159.5 L496.7 160.3 L497.1 161.1 L497.5 161.8 L497.9 162.4 L498.3 163.0 L498.7 163.6 L499.0 164.1 L499.4 164.5 L499.8 165.0 L500.2 165.4 L500.6 165.8 L501.0 166.1 L501.4 166.4 L501.8 166.7 L502.2 167.0 L502.6 167.3 L503.0 167.5 L503.4 167.7 L503.8 167.9 L504.2 168.1 L504.6 168.2 L505.0 168.4 L505.4 168.5 L505.7 168.6 L506.1 168.7 L506.5 168.8 L506.9 168.9 L507.3 169.0 L507.7 169.1 L508.1 169.1 L508.5 169.2 L508.9 169.2 L509.3 169.3 L509.7 169.3 L510.1 169.4 L510.5 169.4 L510.9 169.4 L511.3 169.4 L511.7 169.5 L512.1 169.5 L512.5 169.5 L512.8 169.5 L513.2 169.5 L513.6 169.6 L514.0 169.6 L514.4 169.6 L514.8 169.6 L515.2 169.6 L515.6 169.6 L516.0 169.6 L516.4 169.6 L516.8 169.6 L517.2 169.6 L517.6 169.6 L518.0 169.6 L518.4 169.6 L518.8 169.6 L519.2 169.6 L519.5 169.6 L519.9 169.6 L520.3 169.6 L520.7 169.6 L521.1 169.6 L521.5 169.6 L521.9 169.6 L522.3 169.6 L522.7 169.6 L523.1 169.6 L523.5 169.6 L523.9 169.6 L524.3 169.6 L524.7 169.6 L525.1 169.6 L525.5 169.6 L525.9 169.6 L526.2 169.6 L526.6 169.6 L527.0 169.6 L527.4 169.6 L527.8 169.6 L528.2 169.6 L528.6 169.6 L529.0 169.6 L529.4 169.6 L529.8 169.6 L530.2 169.6 L530.6 169.6 L531.0 169.6 L531.4 169.6 L531.8 169.6 L532.2 169.6 L532.6 169.6 L533.0 169.6 L533.3 169.6 L533.7 169.6 L534.1 169.6 L534.5 169.6 L534.9 169.6 L535.3 169.6 L535.7 169.6 L536.1 169.6 L536.5 169.6 L536.9 169.6 L537.3 169.6 L537.7 169.6 L538.1 169.6 L538.5 169.6 L538.9 169.6 L539.3 169.6 L539.7 169.6 L540.0 169.6 L540.4 169.6 L540.8 169.6 L541.2 169.6 L541.6 169.6 L542.0 169.6 L542.4 169.6 L542.8 169.6 L543.2 169.6" stroke="#ff2a2a" stroke-dasharray="3 1 .8 1"/>
<path d="M346.5 169.6 L346.9 169.6 L347.3 169.6 L347.7 169.6 L348.1 169.6 L348.5 169.6 L348.8 169.6 L349.2 169.6 L349.6 169.6 L350.0 169.6 L350.4 169.6 L350.8 169.6 L351.2 169.6 L351.6 169.6 L352.0 169.6 L352.4 169.6 L352.8 169.6 L353.2 169.6 L353.6 169.6 L354.0 169.6 L354.4 169.6 L354.8 169.6 L355.2 169.6 L355.6 169.6 L355.9 169.6 L356.3 169.6 L356.7 169.6 L357.1 169.6 L357.5 169.6 L357.9 169.6 L358.3 169.6 L358.7 169.6 L359.1 169.6 L359.5 169.6 L359.9 169.6 L360.3 169.6 L360.7 169.6 L361.1 169.6 L361.5 169.6 L361.9 169.6 L362.3 169.6 L362.6 169.6 L363.0 169.6 L363.4 169.6 L363.8 169.6 L364.2 169.6 L364.6 169.6 L365.0 169.6 L365.4 169.6 L365.8 169.6 L366.2 169.6 L366.6 169.6 L367.0 169.6 L367.4 169.6 L367.8 169.6 L368.2 169.6 L368.6 169.6 L369.0 169.6 L369.3 169.6 L369.7 169.6 L370.1 169.6 L370.5 169.6 L370.9 169.6 L371.3 169.6 L371.7 169.6 L372.1 169.6 L372.5 169.6 L372.9 169.6 L373.3 169.6 L373.7 169.6 L374.1 169.6 L374.5 169.6 L374.9 169.6 L375.3 169.6 L375.7 169.6 L376.1 169.6 L376.4 169.6 L376.8 169.6 L377.2 169.6 L377.6 169.6 L378.0 169.6 L378.4 169.6 L378.8 169.6 L379.2 169.6 L379.6 169.6 L380.0 169.6 L380.4 169.6 L380.8 169.6 L381.2 169.6 L381.6 169.6 L382.0 169.6 L382.4 169.6 L382.8 169.6 L383.1 169.6 L383.5 169.6 L383.9 169.6 L384.3 169.6 L384.7 169.6 L385.1 169.6 L385.5 169.6 L385.9 169.6 L386.3 169.6 L386.7 169.6 L387.1 169.6 L387.5 169.6 L387.9 169.6 L388.3 169.6 L388.7 169.6 L389.1 169.6 L389.5 169.6 L389.8 169.6 L390.2 169.6 L390.6 169.6 L391.0 169.6 L391.4 169.6 L391.8 169.6 L392.2 169.6 L392.6 169.6 L393.0 169.6 L393.4 169.6 L393.8 169.6 L394.2 169.6 L394.6 169.6 L395.0 169.6 L395.4 169.6 L395.8 169.6 L396.2 169.6 L396.5 169.6 L396.9 169.6 L397.3 169.6 L397.7 169.6 L398.1 169.6 L398.5 169.6 L398.9 169.6 L399.3 169.6 L399.7 169.6 L400.1 169.6 L400.5 169.6 L400.9 169.6 L401.3 169.6 L401.7 169.6 L402.1 169.6 L402.5 169.6 L402.9 169.6 L403.3 169.6 L403.6 169.6 L404.0 169.6 L404.4 169.6 L404.8 169.6 L405.2 169.6 L405.6 169.6 L406.0 169.6 L406.4 169.6 L406.8 169.6 L407.2 169.6 L407.6 169.6 L408.0 169.6 L408.4 169.6 L408.8 169.6 L409.2 169.6 L409.6 169.6 L410.0 169.6 L410.3 169.6 L410.7 169.6 L411.1 169.6 L411.5 169.6 L411.9 169.6 L412.3 169.6 L412.7 169.6 L413.1 169.6 L413.5 169.6 L413.9 169.6 L414.3 169.6 L414.7 169.6 L415.1 169.6 L415.5 169.6 L415.9 169.6 L416.3 169.6 L416.7 169.6 L417.0 169.6 L417.4 169.6 L417.8 169.6 L418.2 169.6 L418.6 169.6 L419.0 169.6 L419.4 169.6 L419.8 169.6 L420.2 169.6 L420.6 169.6 L421.0 169.6 L421.4 169.6 L421.8 169.6 L422.2 169.6 L422.6 169.6 L423.0 169.6 L423.4 169.6 L423.8 169.6 L424.1 169.6 L424.5 169.6 L424.9 169.6 L425.3 169.6 L425.7 169.6 L426.1 169.6 L426.5 169.6 L426.9 169.5 L427.3 169.5 L427.7 169.5 L428.1 169.5 L428.5 169.5 L428.9 169.5 L429.3 169.4 L429.7 169.4 L430.1 169.4 L430.5 169.3 L430.8 169.3 L431.2 169.2 L431.6 169.2 L432.0 169.1 L432.4 169.1 L432.8 169.0 L433.2 168.9 L433.6 168.8 L434.0 168.7 L434.4 168.6 L434.8 168.5 L435.2 168.4 L435.6 168.2 L436.0 168.0 L436.4 167.9 L436.8 167.7 L437.2 167.4 L437.5 167.2 L437.9 166.9 L438.3 166.7 L438.7 166.3 L439.1 166.0 L439.5 165.6 L439.9 165.2 L440.3 164.8 L440.7 164.3 L441.1 163.8 L441.5 163.3 L441.9 162.7 L442.3 162.0 L442.7 161.3 L443.1 160.6 L443.5 159.8 L443.9 159.0 L444.3 158.1 L444.6 157.1 L445.0 156.1 L445.4 155.0 L445.8 153.8 L446.2 152.6 L446.6 151.2 L447.0 149.8 L447.4 148.4 L447.8 146.8 L448.2 145.2 L448.6 143.5 L449.0 141.7 L449.4 139.8 L449.8 137.8 L450.2 135.8 L450.6 133.6 L451.0 131.4 L451.3 129.0 L451.7 126.6 L452.1 124.1 L452.5 121.5 L452.9 118.9 L453.3 116.1 L453.7 113.3 L454.1 110.4 L454.5 107.4 L454.9 104.3 L455.3 101.2 L455.7 98.1 L456.1 94.8 L456.5 91.6 L456.9 88.2 L457.3 84.9 L457.7 81.5 L458.0 78.1 L458.4 74.7 L458.8 71.3 L459.2 67.9 L459.6 64.5 L460.0 61.1 L460.4 57.8 L460.8 54.5 L461.2 51.2 L461.6 48.0 L462.0 44.9 L462.4 41.9 L462.8 38.9 L463.2 36.1 L463.6 33.3 L464.0 30.7 L464.4 28.2 L464.8 25.8 L465.1 23.6 L465.5 21.6 L465.9 19.6 L466.3 17.9 L466.7 16.3 L467.1 14.9 L467.5 13.7 L467.9 12.7 L468.3 11.8 L468.7 11.2 L469.1 10.7 L469.5 10.5 L469.9 10.4 L470.3 10.5 L470.7 10.9 L471.1 11.3 L471.5 12.0 L471.8 12.8 L472.2 13.8 L472.6 15.0 L473.0 16.4 L473.4 17.8 L473.8 19.5 L474.2 21.3 L474.6 23.2 L475.0 25.3 L475.4 27.5 L475.8 29.9 L476.2 32.3 L476.6 34.9 L477.0 37.5 L477.4 40.3 L477.8 43.1 L478.2 46.0 L478.5 49.0 L478.9 52.0 L479.3 55.1 L479.7 58.3 L480.1 61.4 L480.5 64.6 L480.9 67.9 L481.3 71.1 L481.7 74.3 L482.1 77.6 L482.5 80.8 L482.9 84.0 L483.3 87.2 L483.7 90.3 L484.1 93.4 L484.5 96.5 L484.9 99.6 L485.2 102.5 L485.6 105.5 L486.0 108.3 L486.4 111.1 L486.8 113.9 L487.2 116.6 L487.6 119.2 L488.0 121.7 L488.4 124.1 L488.8 126.5 L489.2 128.8 L489.6 131.0 L490.0 133.2 L490.4 135.2 L490.8 137.2 L491.2 139.1 L491.6 140.9 L492.0 142.7 L492.3 144.3 L492.7 145.9 L493.1 147.4 L493.5 148.9 L493.9 150.2 L494.3 151.5 L494.7 152.8 L495.1 153.9 L495.5 155.0 L495.9 156.1 L496.3 157.1 L496.7 158.0 L497.1 158.9 L497.5 159.7 L497.9 160.4 L498.3 161.1 L498.7 161.8 L499.0 162.4 L499.4 163.0 L499.8 163.6 L500.2 164.1 L500.6 164.5 L501.0 165.0 L501.4 165.4 L501.8 165.7 L502.2 166.1 L502.6 166.4 L503.0 166.7 L503.4 167.0 L503.8 167.2 L504.2 167.4 L504.6 167.6 L505.0 167.8 L505.4 168.0 L505.7 168.2 L506.1 168.3 L506.5 168.4 L506.9 168.6 L507.3 168.7 L507.7 168.8 L508.1 168.9 L508.5 168.9 L508.9 169.0 L509.3 169.1 L509.7 169.1 L510.1 169.2 L510.5 169.2 L510.9 169.3 L511.3 169.3 L511.7 169.4 L512.1 169.4 L512.5 169.4 L512.8 169.5 L513.2 169.5 L513.6 169.5 L514.0 169.5 L514.4 169.5 L514.8 169.5 L515.2 169.6 L515.6 169.6 L516.0 169.6 L516.4 169.6 L516.8 169.6 L517.2 169.6 L517.6 169.6 L518.0 169.6 L518.4 169.6 L518.8 169.6 L519.2 169.6 L519.5 169.6 L519.9 169.6 L520.3 169.6 L520.7 169.6 L521.1 169.6 L521.5 169.6 L521.9 169.6 L522.3 169.6 L522.7 169.6 L523.1 169.6 L523.5 169.6 L523.9 169.6 L524.3 169.6 L524.7 169.6 L525.1 169.6 L525.5 169.6 L525.9 169.6 L526.2 169.6 L526.6 169.6 L527.0 169.6 L527.4 169.6 L527.8 169.6 L528.2 169.6 L528.6 169.6 L529.0 169.6 L529.4 169.6 L529.8 169.6 L530.2 169.6 L530.6 169.6 L531.0 169.6 L531.4 169.6 L531.8 169.6 L532.2 169.6 L532.6 169.6 L533.0 169.6 L533.3 169.6 L533.7 169.6 L534.1 169.6 L534.5 169.6 L534.9 169.6 L535.3 169.6 L535.7 169.6 L536.1 169.6 L536.5 169.6 L536.9 169.6 L537.3 169.6 L537.7 169.6 L538.1 169.6 L538.5 169.6 L538.9 169.6 L539.3 169.6 L539.7 169.6 L540.0 169.6 L540.4 169.6 L540.8 169.6 L541.2 169.6 L541.6 169.6 L542.0 169.6 L542.4 169.6 L542.8 169.6 L543.2 169.6" stroke="#1e9a1e" stroke-dasharray="3 1 .8 1 .8 1"/>
<path d="M346.5 169.6 L346.9 169.6 L347.3 169.6 L347.7 169.6 L348.1 169.6 L348.5 169.6 L348.8 169.6 L349.2 169.6 L349.6 169.6 L350.0 169.6 L350.4 169.6 L350.8 169.6 L351.2 169.6 L351.6 169.6 L352.0 169.6 L352.4 169.6 L352.8 169.6 L353.2 169.6 L353.6 169.6 L354.0 169.6 L354.4 169.6 L354.8 169.6 L355.2 169.6 L355.6 169.6 L355.9 169.6 L356.3 169.6 L356.7 169.6 L357.1 169.6 L357.5 169.6 L357.9 169.6 L358.3 169.6 L358.7 169.6 L359.1 169.6 L359.5 169.6 L359.9 169.6 L360.3 169.6 L360.7 169.6 L361.1 169.6 L361.5 169.6 L361.9 169.6 L362.3 169.6 L362.6 169.6 L363.0 169.6 L363.4 169.6 L363.8 169.6 L364.2 169.6 L364.6 169.6 L365.0 169.6 L365.4 169.6 L365.8 169.6 L366.2 169.6 L366.6 169.6 L367.0 169.6 L367.4 169.6 L367.8 169.6 L368.2 169.6 L368.6 169.6 L369.0 169.6 L369.3 169.6 L369.7 169.6 L370.1 169.6 L370.5 169.6 L370.9 169.6 L371.3 169.6 L371.7 169.6 L372.1 169.6 L372.5 169.6 L372.9 169.6 L373.3 169.6 L373.7 169.6 L374.1 169.6 L374.5 169.6 L374.9 169.6 L375.3 169.6 L375.7 169.6 L376.1 169.6 L376.4 169.6 L376.8 169.6 L377.2 169.6 L377.6 169.6 L378.0 169.6 L378.4 169.6 L378.8 169.6 L379.2 169.6 L379.6 169.6 L380.0 169.6 L380.4 169.6 L380.8 169.6 L381.2 169.6 L381.6 169.6 L382.0 169.6 L382.4 169.6 L382.8 169.6 L383.1 169.6 L383.5 169.6 L383.9 169.6 L384.3 169.6 L384.7 169.6 L385.1 169.6 L385.5 169.6 L385.9 169.6 L386.3 169.6 L386.7 169.6 L387.1 169.6 L387.5 169.6 L387.9 169.6 L388.3 169.6 L388.7 169.6 L389.1 169.6 L389.5 169.6 L389.8 169.6 L390.2 169.6 L390.6 169.6 L391.0 169.6 L391.4 169.6 L391.8 169.6 L392.2 169.6 L392.6 169.6 L393.0 169.6 L393.4 169.6 L393.8 169.6 L394.2 169.6 L394.6 169.6 L395.0 169.6 L395.4 169.6 L395.8 169.6 L396.2 169.6 L396.5 169.6 L396.9 169.6 L397.3 169.6 L397.7 169.6 L398.1 169.6 L398.5 169.6 L398.9 169.6 L399.3 169.6 L399.7 169.6 L400.1 169.6 L400.5 169.6 L400.9 169.6 L401.3 169.6 L401.7 169.6 L402.1 169.6 L402.5 169.6 L402.9 169.6 L403.3 169.6 L403.6 169.6 L404.0 169.6 L404.4 169.6 L404.8 169.6 L405.2 169.6 L405.6 169.6 L406.0 169.6 L406.4 169.6 L406.8 169.6 L407.2 169.6 L407.6 169.6 L408.0 169.6 L408.4 169.6 L408.8 169.6 L409.2 169.6 L409.6 169.6 L410.0 169.6 L410.3 169.6 L410.7 169.6 L411.1 169.6 L411.5 169.6 L411.9 169.6 L412.3 169.6 L412.7 169.6 L413.1 169.6 L413.5 169.6 L413.9 169.6 L414.3 169.6 L414.7 169.6 L415.1 169.6 L415.5 169.6 L415.9 169.6 L416.3 169.6 L416.7 169.6 L417.0 169.6 L417.4 169.6 L417.8 169.6 L418.2 169.6 L418.6 169.6 L419.0 169.6 L419.4 169.6 L419.8 169.6 L420.2 169.6 L420.6 169.6 L421.0 169.6 L421.4 169.6 L421.8 169.6 L422.2 169.6 L422.6 169.6 L423.0 169.6 L423.4 169.6 L423.8 169.6 L424.1 169.6 L424.5 169.6 L424.9 169.6 L425.3 169.6 L425.7 169.6 L426.1 169.6 L426.5 169.6 L426.9 169.6 L427.3 169.6 L427.7 169.6 L428.1 169.6 L428.5 169.6 L428.9 169.6 L429.3 169.6 L429.7 169.6 L430.1 169.6 L430.5 169.6 L430.8 169.6 L431.2 169.6 L431.6 169.6 L432.0 169.6 L432.4 169.6 L432.8 169.6 L433.2 169.6 L433.6 169.6 L434.0 169.6 L434.4 169.6 L434.8 169.6 L435.2 169.6 L435.6 169.6 L436.0 169.6 L436.4 169.6 L436.8 169.6 L437.2 169.6 L437.5 169.6 L437.9 169.6 L438.3 169.6 L438.7 169.5 L439.1 169.5 L439.5 169.4 L439.9 169.3 L440.3 169.3 L440.7 169.1 L441.1 169.0 L441.5 168.8 L441.9 168.6 L442.3 168.3 L442.7 168.0 L443.1 167.6 L443.5 167.1 L443.9 166.6 L444.3 166.0 L444.6 165.2 L445.0 164.4 L445.4 163.4 L445.8 162.4 L446.2 161.1 L446.6 159.8 L447.0 158.3 L447.4 156.6 L447.8 154.7 L448.2 152.7 L448.6 150.6 L449.0 148.2 L449.4 145.7 L449.8 142.9 L450.2 140.0 L450.6 137.0 L451.0 133.7 L451.3 130.4 L451.7 126.8 L452.1 123.1 L452.5 119.3 L452.9 115.4 L453.3 111.3 L453.7 107.2 L454.1 102.9 L454.5 98.6 L454.9 94.3 L455.3 89.9 L455.7 85.6 L456.1 81.2 L456.5 76.8 L456.9 72.5 L457.3 68.2 L457.7 64.0 L458.0 59.9 L458.4 55.8 L458.8 51.9 L459.2 48.1 L459.6 44.4 L460.0 40.9 L460.4 37.5 L460.8 34.3 L461.2 31.3 L461.6 28.4 L462.0 25.8 L462.4 23.3 L462.8 21.0 L463.2 18.9 L463.6 17.0 L464.0 15.3 L464.4 13.8 L464.8 12.5 L465.1 11.3 L465.5 10.4 L465.9 9.7 L466.3 9.1 L466.7 8.8 L467.1 8.6 L467.5 8.6 L467.9 8.8 L468.3 9.2 L468.7 9.8 L469.1 10.6 L469.5 11.6 L469.9 12.8 L470.3 14.1 L470.7 15.6 L471.1 17.2 L471.5 18.9 L471.8 20.8 L472.2 22.8 L472.6 24.9 L473.0 27.1 L473.4 29.3 L473.8 31.6 L474.2 34.0 L474.6 36.5 L475.0 39.0 L475.4 41.5 L475.8 44.1 L476.2 46.7 L476.6 49.3 L477.0 51.9 L477.4 54.6 L477.8 57.2 L478.2 59.8 L478.5 62.5 L478.9 65.1 L479.3 67.7 L479.7 70.3 L480.1 72.8 L480.5 75.3 L480.9 77.8 L481.3 80.3 L481.7 82.7 L482.1 85.1 L482.5 87.5 L482.9 89.8 L483.3 92.1 L483.7 94.3 L484.1 96.5 L484.5 98.7 L484.9 100.8 L485.2 102.8 L485.6 104.9 L486.0 106.8 L486.4 108.8 L486.8 110.6 L487.2 112.5 L487.6 114.3 L488.0 116.0 L488.4 117.7 L488.8 119.4 L489.2 121.0 L489.6 122.5 L490.0 124.1 L490.4 125.6 L490.8 127.0 L491.2 128.4 L491.6 129.8 L492.0 131.1 L492.3 132.4 L492.7 133.6 L493.1 134.8 L493.5 136.0 L493.9 137.1 L494.3 138.2 L494.7 139.3 L495.1 140.3 L495.5 141.3 L495.9 142.3 L496.3 143.2 L496.7 144.1 L497.1 145.0 L497.5 145.9 L497.9 146.7 L498.3 147.5 L498.7 148.3 L499.0 149.0 L499.4 149.7 L499.8 150.4 L500.2 151.1 L500.6 151.8 L501.0 152.4 L501.4 153.0 L501.8 153.6 L502.2 154.1 L502.6 154.7 L503.0 155.2 L503.4 155.7 L503.8 156.2 L504.2 156.7 L504.6 157.2 L505.0 157.6 L505.4 158.0 L505.7 158.5 L506.1 158.9 L506.5 159.2 L506.9 159.6 L507.3 160.0 L507.7 160.3 L508.1 160.7 L508.5 161.0 L508.9 161.3 L509.3 161.6 L509.7 161.9 L510.1 162.2 L510.5 162.4 L510.9 162.7 L511.3 162.9 L511.7 163.2 L512.1 163.4 L512.5 163.6 L512.8 163.9 L513.2 164.1 L513.6 164.3 L514.0 164.5 L514.4 164.7 L514.8 164.8 L515.2 165.0 L515.6 165.2 L516.0 165.3 L516.4 165.5 L516.8 165.7 L517.2 165.8 L517.6 165.9 L518.0 166.1 L518.4 166.2 L518.8 166.3 L519.2 166.4 L519.5 166.6 L519.9 166.7 L520.3 166.8 L520.7 166.9 L521.1 167.0 L521.5 167.1 L521.9 167.2 L522.3 167.3 L522.7 167.4 L523.1 167.4 L523.5 167.5 L523.9 167.6 L524.3 167.7 L524.7 167.7 L525.1 167.8 L525.5 167.9 L525.9 167.9 L526.2 168.0 L526.6 168.1 L527.0 168.1 L527.4 168.2 L527.8 168.2 L528.2 168.3 L528.6 168.3 L529.0 168.4 L529.4 168.4 L529.8 168.5 L530.2 168.5 L530.6 168.6 L531.0 168.6 L531.4 168.6 L531.8 168.7 L532.2 168.7 L532.6 168.7 L533.0 168.8 L533.3 168.8 L533.7 168.8 L534.1 168.9 L534.5 168.9 L534.9 168.9 L535.3 169.0 L535.7 169.0 L536.1 169.0 L536.5 169.0 L536.9 169.0 L537.3 169.1 L537.7 169.1 L538.1 169.1 L538.5 169.1 L538.9 169.1 L539.3 169.2 L539.7 169.2 L540.0 169.2 L540.4 169.2 L540.8 169.2 L541.2 169.2 L541.6 169.3 L542.0 169.3 L542.4 169.3 L542.8 169.3 L543.2 169.3" stroke="#ff8c1a"/>
<path d="M397.8 173.5 L398.3 172.8 L398.9 172.0 L399.4 171.3 L400.0 170.5 L400.5 169.7 L401.0 169.0 L401.6 168.2 L402.1 167.4 L402.7 166.6 L403.2 165.8 L403.7 165.1 L404.3 164.3 L404.8 163.5 L405.4 162.7 L405.9 161.9 L406.5 161.1 L407.0 160.3 L407.5 159.5 L408.1 158.6 L408.6 157.8 L409.2 157.0 L409.7 156.2 L410.3 155.4 L410.8 154.6 L411.3 153.8 L411.9 152.9 L412.4 152.1 L413.0 151.3 L413.5 150.5 L414.1 149.7 L414.6 148.8 L415.1 148.0 L415.7 147.2 L416.2 146.4 L416.8 145.6 L417.3 144.8 L417.9 143.9 L418.4 143.1 L418.9 142.3 L419.5 141.5 L420.0 140.7 L420.6 139.9 L421.1 139.1 L421.7 138.3 L422.2 137.5 L422.7 136.7 L423.3 135.9 L423.8 135.1 L424.4 134.4 L424.9 133.6 L425.5 132.8 L426.0 132.0 L426.5 131.3 L427.1 130.5 L427.6 129.7 L428.2 129.0 L428.7 128.2 L429.3 127.5 L429.8 126.7 L430.3 126.0 L430.9 125.3 L431.4 124.6 L432.0 123.8 L432.5 123.1 L433.1 122.4 L433.6 121.7 L434.1 121.0 L434.7 120.3 L435.2 119.7 L435.8 119.0 L436.3 118.3 L436.8 117.7 L437.4 117.0 L437.9 116.4 L438.5 115.7 L439.0 115.1 L439.6 114.5 L440.1 113.9 L440.6 113.3 L441.2 112.7 L441.7 112.1 L442.3 111.5 L442.8 111.0 L443.4 110.4 L443.9 109.8 L444.4 109.3 L445.0 108.8 L445.5 108.3 L446.1 107.7 L446.6 107.2 L447.2 106.7 L447.7 106.3 L448.2 105.8 L448.8 105.3 L449.3 104.9 L449.9 104.4 L450.4 104.0 L451.0 103.6 L451.5 103.1 L452.0 102.7 L452.6 102.4 L453.1 102.0 L453.7 101.6 L454.2 101.2 L454.8 100.9 L455.3 100.6 L455.8 100.2 L456.4 99.9 L456.9 99.6 L457.5 99.3 L458.0 99.0 L458.6 98.8 L459.1 98.5 L459.6 98.3 L460.2 98.0 L460.7 97.8 L461.3 97.6 L461.8 97.4 L462.4 97.2 L462.9 97.1 L463.4 96.9 L464.0 96.7 L464.5 96.6 L465.1 96.5 L465.6 96.4 L466.1 96.3 L466.7 96.2 L467.2 96.1 L467.8 96.0 L468.3 96.0 L468.9 95.9 L469.4 95.9 L469.9 95.9 L470.5 95.9 L471.0 95.9 L471.6 95.9 L472.1 96.0 L472.7 96.0 L473.2 96.1 L473.7 96.1 L474.3 96.2 L474.8 96.3 L475.4 96.4 L475.9 96.5 L476.5 96.7 L477.0 96.8 L477.5 97.0 L478.1 97.1 L478.6 97.3 L479.2 97.5 L479.7 97.7 L480.3 97.9 L480.8 98.1 L481.3 98.4 L481.9 98.6 L482.4 98.9 L483.0 99.2 L483.5 99.5 L484.1 99.7 L484.6 100.1 L485.1 100.4 L485.7 100.7 L486.2 101.0 L486.8 101.4 L487.3 101.8 L487.9 102.1 L488.4 102.5 L488.9 102.9 L489.5 103.3 L490.0 103.7 L490.6 104.2 L491.1 104.6 L491.7 105.1 L492.2 105.5 L492.7 106.0 L493.3 106.5 L493.8 106.9 L494.4 107.4 L494.9 108.0 L495.5 108.5 L496.0 109.0 L496.5 109.5 L497.1 110.1 L497.6 110.6 L498.2 111.2 L498.7 111.8 L499.2 112.4 L499.8 112.9 L500.3 113.5 L500.9 114.1 L501.4 114.8 L502.0 115.4 L502.5 116.0 L503.0 116.7 L503.6 117.3 L504.1 118.0 L504.7 118.6 L505.2 119.3 L505.8 120.0 L506.3 120.6 L506.8 121.3 L507.4 122.0 L507.9 122.7 L508.5 123.4 L509.0 124.1 L509.6 124.9 L510.1 125.6 L510.6 126.3 L511.2 127.1 L511.7 127.8 L512.3 128.5 L512.8 129.3 L513.4 130.1 L513.9 130.8 L514.4 131.6 L515.0 132.4 L515.5 133.1 L516.1 133.9 L516.6 134.7 L517.2 135.5 L517.7 136.3 L518.2 137.1 L518.8 137.8 L519.3 138.6 L519.9 139.4 L520.4 140.3 L521.0 141.1 L521.5 141.9 L522.0 142.7 L522.6 143.5 L523.1 144.3 L523.7 145.1 L524.2 145.9 L524.8 146.7 L525.3 147.6 L525.8 148.4 L526.4 149.2 L526.9 150.0 L527.5 150.8 L528.0 151.7 L528.5 152.5 L529.1 153.3 L529.6 154.1 L530.2 154.9 L530.7 155.7 L531.3 156.6 L531.8 157.4 L532.3 158.2 L532.9 159.0 L533.4 159.8 L534.0 160.6 L534.5 161.4 L535.1 162.2 L535.6 163.0 L536.1 163.8 L536.7 164.6 L537.2 165.4 L537.8 166.2 L538.3 167.0 L538.9 167.7 L539.4 168.5 L539.9 169.3 L540.5 170.1 L541.0 170.8 L541.6 171.6 L542.1 172.3 L542.7 173.1 L543.2 173.8" stroke="#c828e6" stroke-dasharray="3.2 2.4"/>
</g>
<rect x="335.00" y="3.00" width="212.60" height="171.00" fill="none" stroke="#2a2a2a" stroke-width="1"/>
<path d="M340.40 174.00 v2.40 M360.68 174.00 v2.40 M380.96 174.00 v2.40 M401.24 174.00 v2.40 M421.52 174.00 v2.40 M441.80 174.00 v2.40 M462.08 174.00 v2.40 M482.36 174.00 v2.40 M502.64 174.00 v2.40 M522.92 174.00 v2.40 M543.20 174.00 v2.40 M345.14 3.00 v1.70 M355.28 3.00 v3.30 M365.42 3.00 v1.70 M375.56 3.00 v3.30 M385.70 3.00 v1.70 M395.84 3.00 v3.30 M405.98 3.00 v1.70 M416.12 3.00 v3.30 M426.26 3.00 v1.70 M436.40 3.00 v3.30 M446.54 3.00 v1.70 M456.68 3.00 v3.30 M466.82 3.00 v1.70 M476.96 3.00 v3.30 M487.10 3.00 v1.70 M497.24 3.00 v3.30 M507.38 3.00 v1.70 M517.52 3.00 v3.30 M527.66 3.00 v1.70 M537.80 3.00 v3.30 M335.00 174.00 h-3.30 M547.60 174.00 h-3.30 M335.00 158.45 h-1.70 M547.60 158.45 h-1.70 M335.00 142.90 h-3.30 M547.60 142.90 h-3.30 M335.00 127.35 h-1.70 M547.60 127.35 h-1.70 M335.00 111.80 h-3.30 M547.60 111.80 h-3.30 M335.00 96.25 h-1.70 M547.60 96.25 h-1.70 M335.00 80.70 h-3.30 M547.60 80.70 h-3.30 M335.00 65.15 h-1.70 M547.60 65.15 h-1.70 M335.00 49.60 h-3.30 M547.60 49.60 h-3.30 M335.00 34.05 h-1.70 M547.60 34.05 h-1.70 M335.00 18.50 h-3.30 M547.60 18.50 h-3.30 M335.00 2.95 h-1.70 M547.60 2.95 h-1.70" stroke="#2a2a2a" stroke-width="0.95" fill="none"/>
<g font-size="5.5" text-anchor="middle" fill="#222" stroke="#222" stroke-width="0.1">
<text x="339.80" y="181.90">92</text>
<text x="360.08" y="181.90">93</text>
<text x="380.36" y="181.90">94</text>
<text x="400.64" y="181.90">95</text>
<text x="420.92" y="181.90">96</text>
<text x="441.20" y="181.90">97</text>
<text x="461.48" y="181.90">98</text>
<text x="481.76" y="181.90">99</text>
<text x="502.04" y="181.90">100</text>
<text x="522.32" y="181.90">101</text>
<text x="542.60" y="181.90">102</text>
</g>
<g font-size="6.8" text-anchor="end" fill="#111" stroke="#111" stroke-width="0.12">
<text x="329.10" y="176.35">0</text>
<text x="329.10" y="145.25">5</text>
<text x="329.10" y="114.15">10</text>
<text x="329.10" y="83.05">15</text>
<text x="329.10" y="51.95">20</text>
<text x="329.10" y="20.85">25</text>
</g>
<text x="437.05" y="193.00" font-size="8.9" text-anchor="middle" fill="#111" stroke="#111" stroke-width="0.18">Compaction degree (%)</text>
<text transform="translate(318.40 87.90) rotate(-90)" font-size="9" text-anchor="middle" fill="#111" stroke="#111" stroke-width="0.18">Frequency (%)</text>
<path d="M343.30 13.20 h16.5" stroke="#ff2a2a" stroke-width="1" fill="none" stroke-dasharray="3 1 .8 1"/>
<text x="364.00" y="15.60" font-size="7.20" fill="#ff2a2a" stroke="#ff2a2a" stroke-width="0.12">Normal distribution</text>
<path d="M343.30 22.80 h16.5" stroke="#1e9a1e" stroke-width="1" fill="none" stroke-dasharray="3 1 .8 1 .8 1"/>
<text x="364.00" y="25.20" font-size="7.20" fill="#1e9a1e" stroke="#1e9a1e" stroke-width="0.12">Lognormal distribution</text>
<path d="M343.30 33.00 h16.5" stroke="#ff8c1a" stroke-width="1" fill="none"/>
<text x="364.00" y="35.40" font-size="7.20" fill="#ff8c1a" stroke="#ff8c1a" stroke-width="0.12">Extreme value distribution</text>
<path d="M343.30 42.50 h16.5" stroke="#c828e6" stroke-width="1" fill="none" stroke-dasharray="3.2 2.4"/>
<text x="364.00" y="44.90" font-size="7.20" fill="#c828e6" stroke="#c828e6" stroke-width="0.12">Sine wave distribution</text>
<text x="430.70" y="208.30" font-size="11.5" font-weight="bold" text-anchor="middle" textLength="14.2" lengthAdjust="spacingAndGlyphs" fill="#111">(b)</text>
</g>
<g class="panel">
<clipPath id="cp2"><rect x="24.80" y="215.30" width="208.70" height="168.10"/></clipPath>
<g fill="url(#bg)" stroke="#0a2c6c" stroke-width="0.75">
<rect x="91.76" y="382.98" width="10.21" height="0.42"/>
<rect x="101.97" y="382.56" width="10.21" height="0.84"/>
<rect x="112.18" y="382.14" width="10.21" height="1.26"/>
<rect x="122.39" y="381.72" width="10.21" height="1.68"/>
<rect x="132.60" y="377.52" width="10.21" height="5.88"/>
<rect x="142.81" y="309.86" width="10.21" height="73.54"/>
<rect x="153.02" y="243.88" width="10.21" height="139.52"/>
<rect x="163.23" y="241.78" width="10.21" height="141.62"/>
<rect x="173.44" y="336.75" width="10.21" height="46.65"/>
<rect x="183.65" y="381.30" width="10.21" height="2.10"/>
<rect x="193.86" y="382.14" width="10.21" height="1.26"/>
<rect x="204.07" y="382.56" width="10.21" height="0.84"/>
<rect x="214.28" y="382.98" width="10.21" height="0.42"/>
</g>
<g fill="none" stroke-width="1.35" clip-path="url(#cp2)" stroke-linejoin="round">
<path d="M124.4 383.3 L124.7 383.3 L125.0 383.2 L125.2 383.2 L125.5 383.2 L125.8 383.2 L126.0 383.2 L126.3 383.1 L126.6 383.1 L126.8 383.1 L127.1 383.1 L127.4 383.0 L127.6 383.0 L127.9 382.9 L128.2 382.9 L128.4 382.9 L128.7 382.8 L129.0 382.8 L129.2 382.7 L129.5 382.6 L129.8 382.6 L130.0 382.5 L130.3 382.4 L130.6 382.3 L130.8 382.2 L131.1 382.1 L131.4 382.0 L131.6 381.9 L131.9 381.8 L132.1 381.7 L132.4 381.5 L132.7 381.4 L132.9 381.2 L133.2 381.0 L133.5 380.9 L133.7 380.7 L134.0 380.5 L134.3 380.2 L134.5 380.0 L134.8 379.7 L135.1 379.5 L135.3 379.2 L135.6 378.9 L135.9 378.6 L136.1 378.2 L136.4 377.9 L136.7 377.5 L136.9 377.1 L137.2 376.6 L137.5 376.2 L137.7 375.7 L138.0 375.2 L138.3 374.7 L138.5 374.1 L138.8 373.5 L139.1 372.9 L139.3 372.2 L139.6 371.5 L139.9 370.8 L140.1 370.1 L140.4 369.3 L140.7 368.4 L140.9 367.6 L141.2 366.7 L141.5 365.7 L141.7 364.7 L142.0 363.7 L142.3 362.6 L142.5 361.5 L142.8 360.4 L143.1 359.2 L143.3 357.9 L143.6 356.6 L143.9 355.3 L144.1 353.9 L144.4 352.5 L144.7 351.0 L144.9 349.5 L145.2 347.9 L145.5 346.3 L145.7 344.6 L146.0 342.9 L146.3 341.2 L146.5 339.3 L146.8 337.5 L147.1 335.6 L147.3 333.6 L147.6 331.6 L147.9 329.6 L148.1 327.5 L148.4 325.4 L148.6 323.3 L148.9 321.1 L149.2 318.8 L149.4 316.6 L149.7 314.3 L150.0 311.9 L150.2 309.6 L150.5 307.2 L150.8 304.8 L151.0 302.4 L151.3 299.9 L151.6 297.5 L151.8 295.0 L152.1 292.5 L152.4 290.0 L152.6 287.5 L152.9 285.0 L153.2 282.6 L153.4 280.1 L153.7 277.6 L154.0 275.2 L154.2 272.7 L154.5 270.3 L154.8 267.9 L155.0 265.6 L155.3 263.2 L155.6 260.9 L155.8 258.7 L156.1 256.5 L156.4 254.4 L156.6 252.3 L156.9 250.2 L157.2 248.2 L157.4 246.3 L157.7 244.5 L158.0 242.7 L158.2 241.0 L158.5 239.3 L158.8 237.8 L159.0 236.3 L159.3 234.9 L159.6 233.6 L159.8 232.4 L160.1 231.3 L160.4 230.3 L160.6 229.4 L160.9 228.6 L161.2 227.9 L161.4 227.3 L161.7 226.8 L162.0 226.4 L162.2 226.1 L162.5 225.9 L162.8 225.8 L163.0 225.8 L163.3 226.0 L163.6 226.2 L163.8 226.6 L164.1 227.0 L164.4 227.6 L164.6 228.2 L164.9 229.0 L165.1 229.8 L165.4 230.8 L165.7 231.9 L165.9 233.0 L166.2 234.3 L166.5 235.6 L166.7 237.0 L167.0 238.5 L167.3 240.1 L167.5 241.8 L167.8 243.5 L168.1 245.4 L168.3 247.2 L168.6 249.2 L168.9 251.2 L169.1 253.3 L169.4 255.4 L169.7 257.6 L169.9 259.8 L170.2 262.1 L170.5 264.4 L170.7 266.7 L171.0 269.1 L171.3 271.5 L171.5 273.9 L171.8 276.4 L172.1 278.8 L172.3 281.3 L172.6 283.8 L172.9 286.3 L173.1 288.8 L173.4 291.3 L173.7 293.7 L173.9 296.2 L174.2 298.7 L174.5 301.1 L174.7 303.6 L175.0 306.0 L175.3 308.4 L175.5 310.8 L175.8 313.1 L176.1 315.4 L176.3 317.7 L176.6 319.9 L176.9 322.2 L177.1 324.3 L177.4 326.5 L177.7 328.6 L177.9 330.6 L178.2 332.6 L178.5 334.6 L178.7 336.5 L179.0 338.4 L179.3 340.2 L179.5 342.0 L179.8 343.8 L180.1 345.5 L180.3 347.1 L180.6 348.7 L180.9 350.3 L181.1 351.8 L181.4 353.2 L181.6 354.6 L181.9 356.0 L182.2 357.3 L182.4 358.6 L182.7 359.8 L183.0 361.0 L183.2 362.1 L183.5 363.2 L183.8 364.2 L184.0 365.2 L184.3 366.2 L184.6 367.1 L184.8 368.0 L185.1 368.9 L185.4 369.7 L185.6 370.4 L185.9 371.2 L186.2 371.9 L186.4 372.5 L186.7 373.2 L187.0 373.8 L187.2 374.4 L187.5 374.9 L187.8 375.4 L188.0 375.9 L188.3 376.4 L188.6 376.8 L188.8 377.3 L189.1 377.7 L189.4 378.0 L189.6 378.4 L189.9 378.7 L190.2 379.0 L190.4 379.3 L190.7 379.6 L191.0 379.9 L191.2 380.1 L191.5 380.3 L191.8 380.6 L192.0 380.8 L192.3 381.0 L192.6 381.1 L192.8 381.3 L193.1 381.5 L193.4 381.6 L193.6 381.7 L193.9 381.9 L194.2 382.0 L194.4 382.1 L194.7 382.2 L195.0 382.3 L195.2 382.4 L195.5 382.5 L195.8 382.5 L196.0 382.6 L196.3 382.7 L196.6 382.7 L196.8 382.8 L197.1 382.8 L197.4 382.9 L197.6 382.9 L197.9 383.0 L198.1 383.0 L198.4 383.0 L198.7 383.1 L198.9 383.1 L199.2 383.1 L199.5 383.1 L199.7 383.2 L200.0 383.2 L200.3 383.2 L200.5 383.2 L200.8 383.2 L201.1 383.3 L201.3 383.3 L201.6 383.3 L201.9 383.3 L202.1 383.3 L202.4 383.3 L202.7 383.3 L202.9 383.3 L203.2 383.3 L203.5 383.3 L203.7 383.3 L204.0 383.4 L204.3 383.4 L204.5 383.4 L204.8 383.4 L205.1 383.4 L205.3 383.4 L205.6 383.4 L205.9 383.4 L206.1 383.4 L206.4 383.4 L206.7 383.4 L206.9 383.4 L207.2 383.4 L207.5 383.4 L207.7 383.4 L208.0 383.4 L208.3 383.4 L208.5 383.4 L208.8 383.4 L209.1 383.4 L209.3 383.4 L209.6 383.4 L209.9 383.4 L210.1 383.4 L210.4 383.4 L210.7 383.4 L210.9 383.4 L211.2 383.4 L211.5 383.4 L211.7 383.4 L212.0 383.4 L212.3 383.4 L212.5 383.4 L212.8 383.4 L213.1 383.4 L213.3 383.4 L213.6 383.4 L213.9 383.4 L214.1 383.4 L214.4 383.4 L214.6 383.4 L214.9 383.4 L215.2 383.4 L215.4 383.4 L215.7 383.4 L216.0 383.4 L216.2 383.4 L216.5 383.4 L216.8 383.4 L217.0 383.4 L217.3 383.4 L217.6 383.4 L217.8 383.4 L218.1 383.4 L218.4 383.4 L218.6 383.4 L218.9 383.4 L219.2 383.4 L219.4 383.4 L219.7 383.4 L220.0 383.4 L220.2 383.4 L220.5 383.4 L220.8 383.4 L221.0 383.4 L221.3 383.4 L221.6 383.4 L221.8 383.4 L222.1 383.4 L222.4 383.4 L222.6 383.4 L222.9 383.4 L223.2 383.4 L223.4 383.4 L223.7 383.4 L224.0 383.4 L224.2 383.4 L224.5 383.4 L224.8 383.4 L225.0 383.4 L225.3 383.4 L225.6 383.4 L225.8 383.4 L226.1 383.4 L226.4 383.4 L226.6 383.4 L226.9 383.4 L227.2 383.4 L227.4 383.4 L227.7 383.4 L228.0 383.4 L228.2 383.4 L228.5 383.4 L228.8 383.4 L229.0 383.4 L229.3 383.4 L229.6 383.4 L229.8 383.4 L230.1 383.4 L230.3 383.4 L230.6 383.4" stroke="#ff2a2a" stroke-dasharray="3 1 .8 1"/>
<path d="M124.4 383.3 L124.7 383.3 L125.0 383.2 L125.2 383.2 L125.5 383.2 L125.8 383.2 L126.0 383.2 L126.3 383.2 L126.6 383.1 L126.8 383.1 L127.1 383.1 L127.4 383.0 L127.6 383.0 L127.9 383.0 L128.2 382.9 L128.4 382.9 L128.7 382.8 L129.0 382.8 L129.2 382.7 L129.5 382.7 L129.8 382.6 L130.0 382.6 L130.3 382.5 L130.6 382.4 L130.8 382.3 L131.1 382.2 L131.4 382.1 L131.6 382.0 L131.9 381.9 L132.1 381.8 L132.4 381.6 L132.7 381.5 L132.9 381.3 L133.2 381.2 L133.5 381.0 L133.7 380.8 L134.0 380.6 L134.3 380.4 L134.5 380.2 L134.8 379.9 L135.1 379.7 L135.3 379.4 L135.6 379.1 L135.9 378.8 L136.1 378.5 L136.4 378.1 L136.7 377.8 L136.9 377.4 L137.2 377.0 L137.5 376.5 L137.7 376.1 L138.0 375.6 L138.3 375.1 L138.5 374.5 L138.8 374.0 L139.1 373.4 L139.3 372.7 L139.6 372.1 L139.9 371.4 L140.1 370.6 L140.4 369.9 L140.7 369.1 L140.9 368.2 L141.2 367.4 L141.5 366.5 L141.7 365.5 L142.0 364.5 L142.3 363.5 L142.5 362.4 L142.8 361.3 L143.1 360.1 L143.3 358.9 L143.6 357.6 L143.9 356.3 L144.1 355.0 L144.4 353.6 L144.7 352.2 L144.9 350.7 L145.2 349.1 L145.5 347.5 L145.7 345.9 L146.0 344.2 L146.3 342.5 L146.5 340.7 L146.8 338.9 L147.1 337.0 L147.3 335.1 L147.6 333.2 L147.9 331.2 L148.1 329.1 L148.4 327.0 L148.6 324.9 L148.9 322.8 L149.2 320.6 L149.4 318.3 L149.7 316.0 L150.0 313.7 L150.2 311.4 L150.5 309.0 L150.8 306.6 L151.0 304.2 L151.3 301.8 L151.6 299.4 L151.8 296.9 L152.1 294.4 L152.4 291.9 L152.6 289.4 L152.9 287.0 L153.2 284.5 L153.4 282.0 L153.7 279.5 L154.0 277.0 L154.2 274.6 L154.5 272.2 L154.8 269.7 L155.0 267.4 L155.3 265.0 L155.6 262.7 L155.8 260.4 L156.1 258.2 L156.4 256.0 L156.6 253.9 L156.9 251.8 L157.2 249.7 L157.4 247.8 L157.7 245.9 L158.0 244.0 L158.2 242.3 L158.5 240.6 L158.8 239.0 L159.0 237.4 L159.3 236.0 L159.6 234.6 L159.8 233.4 L160.1 232.2 L160.4 231.1 L160.6 230.1 L160.9 229.2 L161.2 228.4 L161.4 227.7 L161.7 227.2 L162.0 226.7 L162.2 226.3 L162.5 226.0 L162.8 225.9 L163.0 225.8 L163.3 225.9 L163.6 226.0 L163.8 226.3 L164.1 226.6 L164.4 227.1 L164.6 227.6 L164.9 228.3 L165.1 229.0 L165.4 229.9 L165.7 230.8 L165.9 231.9 L166.2 233.0 L166.5 234.2 L166.7 235.5 L167.0 236.9 L167.3 238.4 L167.5 240.0 L167.8 241.6 L168.1 243.3 L168.3 245.1 L168.6 246.9 L168.9 248.8 L169.1 250.8 L169.4 252.8 L169.7 254.9 L169.9 257.0 L170.2 259.1 L170.5 261.4 L170.7 263.6 L171.0 265.9 L171.3 268.2 L171.5 270.5 L171.8 272.9 L172.1 275.3 L172.3 277.7 L172.6 280.1 L172.9 282.6 L173.1 285.0 L173.4 287.4 L173.7 289.9 L173.9 292.3 L174.2 294.8 L174.5 297.2 L174.7 299.6 L175.0 302.0 L175.3 304.4 L175.5 306.7 L175.8 309.1 L176.1 311.4 L176.3 313.7 L176.6 315.9 L176.9 318.2 L177.1 320.4 L177.4 322.5 L177.7 324.7 L177.9 326.8 L178.2 328.8 L178.5 330.8 L178.7 332.8 L179.0 334.7 L179.3 336.6 L179.5 338.4 L179.8 340.2 L180.1 342.0 L180.3 343.7 L180.6 345.4 L180.9 347.0 L181.1 348.5 L181.4 350.1 L181.6 351.5 L181.9 353.0 L182.2 354.4 L182.4 355.7 L182.7 357.0 L183.0 358.3 L183.2 359.5 L183.5 360.6 L183.8 361.8 L184.0 362.8 L184.3 363.9 L184.6 364.9 L184.8 365.8 L185.1 366.8 L185.4 367.6 L185.6 368.5 L185.9 369.3 L186.2 370.1 L186.4 370.8 L186.7 371.5 L187.0 372.2 L187.2 372.8 L187.5 373.4 L187.8 374.0 L188.0 374.6 L188.3 375.1 L188.6 375.6 L188.8 376.1 L189.1 376.5 L189.4 377.0 L189.6 377.4 L189.9 377.8 L190.2 378.1 L190.4 378.5 L190.7 378.8 L191.0 379.1 L191.2 379.4 L191.5 379.6 L191.8 379.9 L192.0 380.1 L192.3 380.4 L192.6 380.6 L192.8 380.8 L193.1 381.0 L193.4 381.1 L193.6 381.3 L193.9 381.4 L194.2 381.6 L194.4 381.7 L194.7 381.9 L195.0 382.0 L195.2 382.1 L195.5 382.2 L195.8 382.3 L196.0 382.4 L196.3 382.4 L196.6 382.5 L196.8 382.6 L197.1 382.6 L197.4 382.7 L197.6 382.8 L197.9 382.8 L198.1 382.9 L198.4 382.9 L198.7 383.0 L198.9 383.0 L199.2 383.0 L199.5 383.1 L199.7 383.1 L200.0 383.1 L200.3 383.1 L200.5 383.2 L200.8 383.2 L201.1 383.2 L201.3 383.2 L201.6 383.2 L201.9 383.3 L202.1 383.3 L202.4 383.3 L202.7 383.3 L202.9 383.3 L203.2 383.3 L203.5 383.3 L203.7 383.3 L204.0 383.3 L204.3 383.3 L204.5 383.3 L204.8 383.3 L205.1 383.4 L205.3 383.4 L205.6 383.4 L205.9 383.4 L206.1 383.4 L206.4 383.4 L206.7 383.4 L206.9 383.4 L207.2 383.4 L207.5 383.4 L207.7 383.4 L208.0 383.4 L208.3 383.4 L208.5 383.4 L208.8 383.4 L209.1 383.4 L209.3 383.4 L209.6 383.4 L209.9 383.4 L210.1 383.4 L210.4 383.4 L210.7 383.4 L210.9 383.4 L211.2 383.4 L211.5 383.4 L211.7 383.4 L212.0 383.4 L212.3 383.4 L212.5 383.4 L212.8 383.4 L213.1 383.4 L213.3 383.4 L213.6 383.4 L213.9 383.4 L214.1 383.4 L214.4 383.4 L214.6 383.4 L214.9 383.4 L215.2 383.4 L215.4 383.4 L215.7 383.4 L216.0 383.4 L216.2 383.4 L216.5 383.4 L216.8 383.4 L217.0 383.4 L217.3 383.4 L217.6 383.4 L217.8 383.4 L218.1 383.4 L218.4 383.4 L218.6 383.4 L218.9 383.4 L219.2 383.4 L219.4 383.4 L219.7 383.4 L220.0 383.4 L220.2 383.4 L220.5 383.4 L220.8 383.4 L221.0 383.4 L221.3 383.4 L221.6 383.4 L221.8 383.4 L222.1 383.4 L222.4 383.4 L222.6 383.4 L222.9 383.4 L223.2 383.4 L223.4 383.4 L223.7 383.4 L224.0 383.4 L224.2 383.4 L224.5 383.4 L224.8 383.4 L225.0 383.4 L225.3 383.4 L225.6 383.4 L225.8 383.4 L226.1 383.4 L226.4 383.4 L226.6 383.4 L226.9 383.4 L227.2 383.4 L227.4 383.4 L227.7 383.4 L228.0 383.4 L228.2 383.4 L228.5 383.4 L228.8 383.4 L229.0 383.4 L229.3 383.4 L229.6 383.4 L229.8 383.4 L230.1 383.4 L230.3 383.4 L230.6 383.4" stroke="#1e9a1e" stroke-dasharray="3 1 .8 1 .8 1"/>
<path d="M124.4 383.4 L124.7 383.4 L125.0 383.4 L125.2 383.4 L125.5 383.4 L125.8 383.4 L126.0 383.4 L126.3 383.4 L126.6 383.4 L126.8 383.4 L127.1 383.4 L127.4 383.4 L127.6 383.4 L127.9 383.4 L128.2 383.4 L128.4 383.4 L128.7 383.4 L129.0 383.4 L129.2 383.4 L129.5 383.4 L129.8 383.4 L130.0 383.4 L130.3 383.4 L130.6 383.4 L130.8 383.4 L131.1 383.4 L131.4 383.4 L131.6 383.4 L131.9 383.4 L132.1 383.4 L132.4 383.4 L132.7 383.4 L132.9 383.4 L133.2 383.4 L133.5 383.4 L133.7 383.3 L134.0 383.3 L134.3 383.3 L134.5 383.3 L134.8 383.3 L135.1 383.2 L135.3 383.2 L135.6 383.1 L135.9 383.0 L136.1 383.0 L136.4 382.9 L136.7 382.7 L136.9 382.6 L137.2 382.5 L137.5 382.3 L137.7 382.1 L138.0 381.8 L138.3 381.5 L138.5 381.2 L138.8 380.8 L139.1 380.4 L139.3 380.0 L139.6 379.5 L139.9 378.9 L140.1 378.2 L140.4 377.5 L140.7 376.7 L140.9 375.9 L141.2 374.9 L141.5 373.9 L141.7 372.8 L142.0 371.6 L142.3 370.3 L142.5 368.9 L142.8 367.4 L143.1 365.8 L143.3 364.1 L143.6 362.3 L143.9 360.4 L144.1 358.4 L144.4 356.3 L144.7 354.1 L144.9 351.8 L145.2 349.4 L145.5 346.9 L145.7 344.4 L146.0 341.7 L146.3 338.9 L146.5 336.1 L146.8 333.2 L147.1 330.3 L147.3 327.3 L147.6 324.2 L147.9 321.1 L148.1 317.9 L148.4 314.7 L148.6 311.5 L148.9 308.2 L149.2 305.0 L149.4 301.7 L149.7 298.5 L150.0 295.2 L150.2 292.0 L150.5 288.8 L150.8 285.7 L151.0 282.5 L151.3 279.4 L151.6 276.4 L151.8 273.4 L152.1 270.5 L152.4 267.7 L152.6 264.9 L152.9 262.2 L153.2 259.6 L153.4 257.1 L153.7 254.7 L154.0 252.4 L154.2 250.2 L154.5 248.1 L154.8 246.0 L155.0 244.1 L155.3 242.3 L155.6 240.7 L155.8 239.1 L156.1 237.6 L156.4 236.3 L156.6 235.0 L156.9 233.9 L157.2 232.9 L157.4 232.0 L157.7 231.2 L158.0 230.6 L158.2 230.0 L158.5 229.5 L158.8 229.2 L159.0 228.9 L159.3 228.8 L159.6 228.7 L159.8 228.8 L160.1 229.0 L160.4 229.2 L160.6 229.5 L160.9 230.0 L161.2 230.5 L161.4 231.1 L161.7 231.8 L162.0 232.5 L162.2 233.3 L162.5 234.2 L162.8 235.2 L163.0 236.2 L163.3 237.3 L163.6 238.5 L163.8 239.7 L164.1 241.0 L164.4 242.3 L164.6 243.6 L164.9 245.0 L165.1 246.5 L165.4 247.9 L165.7 249.4 L165.9 251.0 L166.2 252.5 L166.5 254.1 L166.7 255.7 L167.0 257.4 L167.3 259.0 L167.5 260.7 L167.8 262.4 L168.1 264.1 L168.3 265.8 L168.6 267.5 L168.9 269.2 L169.1 271.0 L169.4 272.7 L169.7 274.4 L169.9 276.2 L170.2 277.9 L170.5 279.6 L170.7 281.3 L171.0 283.0 L171.3 284.8 L171.5 286.5 L171.8 288.1 L172.1 289.8 L172.3 291.5 L172.6 293.1 L172.9 294.8 L173.1 296.4 L173.4 298.0 L173.7 299.6 L173.9 301.2 L174.2 302.8 L174.5 304.3 L174.7 305.8 L175.0 307.3 L175.3 308.8 L175.5 310.3 L175.8 311.8 L176.1 313.2 L176.3 314.6 L176.6 316.0 L176.9 317.4 L177.1 318.8 L177.4 320.1 L177.7 321.4 L177.9 322.7 L178.2 324.0 L178.5 325.2 L178.7 326.5 L179.0 327.7 L179.3 328.9 L179.5 330.0 L179.8 331.2 L180.1 332.3 L180.3 333.4 L180.6 334.5 L180.9 335.6 L181.1 336.7 L181.4 337.7 L181.6 338.7 L181.9 339.7 L182.2 340.7 L182.4 341.6 L182.7 342.6 L183.0 343.5 L183.2 344.4 L183.5 345.3 L183.8 346.2 L184.0 347.0 L184.3 347.8 L184.6 348.7 L184.8 349.5 L185.1 350.2 L185.4 351.0 L185.6 351.8 L185.9 352.5 L186.2 353.2 L186.4 353.9 L186.7 354.6 L187.0 355.3 L187.2 355.9 L187.5 356.6 L187.8 357.2 L188.0 357.8 L188.3 358.4 L188.6 359.0 L188.8 359.6 L189.1 360.2 L189.4 360.7 L189.6 361.3 L189.9 361.8 L190.2 362.3 L190.4 362.8 L190.7 363.3 L191.0 363.8 L191.2 364.3 L191.5 364.7 L191.8 365.2 L192.0 365.6 L192.3 366.0 L192.6 366.5 L192.8 366.9 L193.1 367.3 L193.4 367.7 L193.6 368.0 L193.9 368.4 L194.2 368.8 L194.4 369.1 L194.7 369.5 L195.0 369.8 L195.2 370.2 L195.5 370.5 L195.8 370.8 L196.0 371.1 L196.3 371.4 L196.6 371.7 L196.8 372.0 L197.1 372.3 L197.4 372.5 L197.6 372.8 L197.9 373.1 L198.1 373.3 L198.4 373.6 L198.7 373.8 L198.9 374.0 L199.2 374.3 L199.5 374.5 L199.7 374.7 L200.0 374.9 L200.3 375.1 L200.5 375.3 L200.8 375.5 L201.1 375.7 L201.3 375.9 L201.6 376.1 L201.9 376.3 L202.1 376.5 L202.4 376.6 L202.7 376.8 L202.9 377.0 L203.2 377.1 L203.5 377.3 L203.7 377.4 L204.0 377.6 L204.3 377.7 L204.5 377.9 L204.8 378.0 L205.1 378.2 L205.3 378.3 L205.6 378.4 L205.9 378.5 L206.1 378.7 L206.4 378.8 L206.7 378.9 L206.9 379.0 L207.2 379.1 L207.5 379.2 L207.7 379.3 L208.0 379.4 L208.3 379.5 L208.5 379.6 L208.8 379.7 L209.1 379.8 L209.3 379.9 L209.6 380.0 L209.9 380.1 L210.1 380.2 L210.4 380.2 L210.7 380.3 L210.9 380.4 L211.2 380.5 L211.5 380.5 L211.7 380.6 L212.0 380.7 L212.3 380.8 L212.5 380.8 L212.8 380.9 L213.1 380.9 L213.3 381.0 L213.6 381.1 L213.9 381.1 L214.1 381.2 L214.4 381.2 L214.6 381.3 L214.9 381.3 L215.2 381.4 L215.4 381.4 L215.7 381.5 L216.0 381.5 L216.2 381.6 L216.5 381.6 L216.8 381.7 L217.0 381.7 L217.3 381.8 L217.6 381.8 L217.8 381.8 L218.1 381.9 L218.4 381.9 L218.6 382.0 L218.9 382.0 L219.2 382.0 L219.4 382.1 L219.7 382.1 L220.0 382.1 L220.2 382.2 L220.5 382.2 L220.8 382.2 L221.0 382.3 L221.3 382.3 L221.6 382.3 L221.8 382.3 L222.1 382.4 L222.4 382.4 L222.6 382.4 L222.9 382.4 L223.2 382.5 L223.4 382.5 L223.7 382.5 L224.0 382.5 L224.2 382.6 L224.5 382.6 L224.8 382.6 L225.0 382.6 L225.3 382.6 L225.6 382.7 L225.8 382.7 L226.1 382.7 L226.4 382.7 L226.6 382.7 L226.9 382.7 L227.2 382.8 L227.4 382.8 L227.7 382.8 L228.0 382.8 L228.2 382.8 L228.5 382.8 L228.8 382.9 L229.0 382.9 L229.3 382.9 L229.6 382.9 L229.8 382.9 L230.1 382.9 L230.3 382.9 L230.6 382.9" stroke="#ff8c1a"/>
<path d="M35.2 376.7 L35.6 377.2 L36.0 377.6 L36.4 378.0 L36.8 378.5 L37.2 378.9 L37.6 379.3 L38.0 379.7 L38.4 380.2 L38.8 380.6 L39.2 381.0 L39.5 381.4 L39.9 381.8 L40.3 382.2 L40.7 382.6 L41.1 383.0 L41.5 383.4 M97.3 383.1 L97.7 382.7 L98.1 382.3 L98.5 381.9 L98.9 381.5 L99.3 381.1 L99.7 380.7 L100.1 380.3 L100.5 379.9 L100.9 379.5 L101.3 379.0 L101.7 378.6 L102.1 378.2 L102.5 377.8 L102.9 377.3 L103.3 376.9 L103.7 376.4 L104.1 376.0 L104.4 375.6 L104.8 375.1 L105.2 374.7 L105.6 374.2 L106.0 373.7 L106.4 373.3 L106.8 372.8 L107.2 372.4 L107.6 371.9 L108.0 371.4 L108.4 371.0 L108.8 370.5 L109.2 370.0 L109.6 369.5 L110.0 369.1 L110.4 368.6 L110.8 368.1 L111.2 367.6 L111.6 367.2 L112.0 366.7 L112.4 366.2 L112.8 365.7 L113.2 365.2 L113.5 364.7 L113.9 364.3 L114.3 363.8 L114.7 363.3 L115.1 362.8 L115.5 362.3 L115.9 361.8 L116.3 361.3 L116.7 360.8 L117.1 360.4 L117.5 359.9 L117.9 359.4 L118.3 358.9 L118.7 358.4 L119.1 357.9 L119.5 357.4 L119.9 356.9 L120.3 356.5 L120.7 356.0 L121.1 355.5 L121.5 355.0 L121.9 354.5 L122.3 354.0 L122.6 353.6 L123.0 353.1 L123.4 352.6 L123.8 352.1 L124.2 351.7 L124.6 351.2 L125.0 350.7 L125.4 350.2 L125.8 349.8 L126.2 349.3 L126.6 348.8 L127.0 348.4 L127.4 347.9 L127.8 347.5 L128.2 347.0 L128.6 346.6 L129.0 346.1 L129.4 345.7 L129.8 345.2 L130.2 344.8 L130.6 344.3 L131.0 343.9 L131.4 343.4 L131.8 343.0 L132.1 342.6 L132.5 342.2 L132.9 341.7 L133.3 341.3 L133.7 340.9 L134.1 340.5 L134.5 340.1 L134.9 339.7 L135.3 339.3 L135.7 338.9 L136.1 338.5 L136.5 338.1 L136.9 337.7 L137.3 337.3 L137.7 336.9 L138.1 336.6 L138.5 336.2 L138.9 335.8 L139.3 335.5 L139.7 335.1 L140.1 334.8 L140.5 334.4 L140.9 334.1 L141.2 333.7 L141.6 333.4 L142.0 333.1 L142.4 332.7 L142.8 332.4 L143.2 332.1 L143.6 331.8 L144.0 331.5 L144.4 331.2 L144.8 330.9 L145.2 330.6 L145.6 330.3 L146.0 330.0 L146.4 329.7 L146.8 329.5 L147.2 329.2 L147.6 328.9 L148.0 328.7 L148.4 328.4 L148.8 328.2 L149.2 327.9 L149.6 327.7 L150.0 327.5 L150.3 327.3 L150.7 327.0 L151.1 326.8 L151.5 326.6 L151.9 326.4 L152.3 326.2 L152.7 326.1 L153.1 325.9 L153.5 325.7 L153.9 325.5 L154.3 325.4 L154.7 325.2 L155.1 325.1 L155.5 324.9 L155.9 324.8 L156.3 324.6 L156.7 324.5 L157.1 324.4 L157.5 324.3 L157.9 324.2 L158.3 324.1 L158.7 324.0 L159.1 323.9 L159.5 323.8 L159.8 323.7 L160.2 323.7 L160.6 323.6 L161.0 323.5 L161.4 323.5 L161.8 323.4 L162.2 323.4 L162.6 323.4 L163.0 323.3 L163.4 323.3 L163.8 323.3 L164.2 323.3 L164.6 323.3 L165.0 323.3 L165.4 323.3 L165.8 323.3 L166.2 323.4 L166.6 323.4 L167.0 323.4 L167.4 323.5 L167.8 323.5 L168.2 323.6 L168.6 323.7 L168.9 323.7 L169.3 323.8 L169.7 323.9 L170.1 324.0 L170.5 324.1 L170.9 324.2 L171.3 324.3 L171.7 324.4 L172.1 324.5 L172.5 324.6 L172.9 324.8 L173.3 324.9 L173.7 325.0 L174.1 325.2 L174.5 325.4 L174.9 325.5 L175.3 325.7 L175.7 325.9 L176.1 326.0 L176.5 326.2 L176.9 326.4 L177.3 326.6 L177.7 326.8 L178.0 327.0 L178.4 327.2 L178.8 327.5 L179.2 327.7 L179.6 327.9 L180.0 328.2 L180.4 328.4 L180.8 328.7 L181.2 328.9 L181.6 329.2 L182.0 329.4 L182.4 329.7 L182.8 330.0 L183.2 330.3 L183.6 330.5 L184.0 330.8 L184.4 331.1 L184.8 331.4 L185.2 331.7 L185.6 332.1 L186.0 332.4 L186.4 332.7 L186.8 333.0 L187.2 333.4 L187.5 333.7 L187.9 334.0 L188.3 334.4 L188.7 334.7 L189.1 335.1 L189.5 335.4 L189.9 335.8 L190.3 336.2 L190.7 336.5 L191.1 336.9 L191.5 337.3 L191.9 337.7 L192.3 338.1 L192.7 338.4 L193.1 338.8 L193.5 339.2 L193.9 339.6 L194.3 340.0 L194.7 340.5 L195.1 340.9 L195.5 341.3 L195.9 341.7 L196.3 342.1 L196.6 342.6 L197.0 343.0 L197.4 343.4 L197.8 343.8 L198.2 344.3 L198.6 344.7 L199.0 345.2 L199.4 345.6 L199.8 346.1 L200.2 346.5 L200.6 347.0 L201.0 347.4 L201.4 347.9 L201.8 348.3 L202.2 348.8 L202.6 349.3 L203.0 349.7 L203.4 350.2 L203.8 350.7 L204.2 351.1 L204.6 351.6 L205.0 352.1 L205.4 352.6 L205.7 353.0 L206.1 353.5 L206.5 354.0 L206.9 354.5 L207.3 355.0 L207.7 355.4 L208.1 355.9 L208.5 356.4 L208.9 356.9 L209.3 357.4 L209.7 357.9 L210.1 358.4 L210.5 358.8 L210.9 359.3 L211.3 359.8 L211.7 360.3 L212.1 360.8 L212.5 361.3 L212.9 361.8 L213.3 362.3 L213.7 362.8 L214.1 363.2 L214.5 363.7 L214.9 364.2 L215.2 364.7 L215.6 365.2 L216.0 365.7 L216.4 366.1 L216.8 366.6 L217.2 367.1 L217.6 367.6 L218.0 368.1 L218.4 368.6 L218.8 369.0 L219.2 369.5 L219.6 370.0 L220.0 370.4 L220.4 370.9 L220.8 371.4 L221.2 371.9 L221.6 372.3 L222.0 372.8 L222.4 373.2 L222.8 373.7 L223.2 374.2 L223.6 374.6 L224.0 375.1 L224.3 375.5 L224.7 376.0 L225.1 376.4 L225.5 376.8 L225.9 377.3 L226.3 377.7 L226.7 378.2 L227.1 378.6 L227.5 379.0 L227.9 379.4 L228.3 379.9 L228.7 380.3 L229.1 380.7 L229.5 381.1 L229.9 381.5 L230.3 381.9 L230.7 382.3 L231.1 382.7 L231.5 383.1" stroke="#c828e6" stroke-dasharray="3.2 2.4"/>
</g>
<rect x="24.80" y="215.30" width="208.70" height="168.10" fill="none" stroke="#2a2a2a" stroke-width="1"/>
<path d="M30.50 383.40 v2.40 M50.92 383.40 v2.40 M71.34 383.40 v2.40 M91.76 383.40 v2.40 M112.18 383.40 v2.40 M132.60 383.40 v2.40 M153.02 383.40 v2.40 M173.44 383.40 v2.40 M193.86 383.40 v2.40 M214.28 383.40 v2.40 M233.50 383.40 v2.40 M35.01 215.30 v1.70 M45.22 215.30 v3.30 M55.43 215.30 v1.70 M65.64 215.30 v3.30 M75.85 215.30 v1.70 M86.06 215.30 v3.30 M96.27 215.30 v1.70 M106.48 215.30 v3.30 M116.69 215.30 v1.70 M126.90 215.30 v3.30 M137.11 215.30 v1.70 M147.32 215.30 v3.30 M157.53 215.30 v1.70 M167.74 215.30 v3.30 M177.95 215.30 v1.70 M188.16 215.30 v3.30 M198.37 215.30 v1.70 M208.58 215.30 v3.30 M218.79 215.30 v1.70 M229.00 215.30 v3.30 M24.80 383.40 h-3.30 M233.50 383.40 h-3.30 M24.80 372.89 h-1.70 M233.50 372.89 h-1.70 M24.80 362.39 h-3.30 M233.50 362.39 h-3.30 M24.80 351.88 h-1.70 M233.50 351.88 h-1.70 M24.80 341.38 h-3.30 M233.50 341.38 h-3.30 M24.80 330.87 h-1.70 M233.50 330.87 h-1.70 M24.80 320.36 h-3.30 M233.50 320.36 h-3.30 M24.80 309.86 h-1.70 M233.50 309.86 h-1.70 M24.80 299.35 h-3.30 M233.50 299.35 h-3.30 M24.80 288.84 h-1.70 M233.50 288.84 h-1.70 M24.80 278.34 h-3.30 M233.50 278.34 h-3.30 M24.80 267.83 h-1.70 M233.50 267.83 h-1.70 M24.80 257.32 h-3.30 M233.50 257.32 h-3.30 M24.80 246.82 h-1.70 M233.50 246.82 h-1.70 M24.80 236.31 h-3.30 M233.50 236.31 h-3.30 M24.80 225.81 h-1.70 M233.50 225.81 h-1.70 M24.80 215.30 h-3.30 M233.50 215.30 h-3.30" stroke="#2a2a2a" stroke-width="0.95" fill="none"/>
<g font-size="5.5" text-anchor="middle" fill="#222" stroke="#222" stroke-width="0.1">
<text x="29.90" y="391.30">92</text>
<text x="50.32" y="391.30">93</text>
<text x="70.74" y="391.30">94</text>
<text x="91.16" y="391.30">95</text>
<text x="111.58" y="391.30">96</text>
<text x="132.00" y="391.30">97</text>
<text x="152.42" y="391.30">98</text>
<text x="172.84" y="391.30">99</text>
<text x="193.26" y="391.30">100</text>
<text x="213.68" y="391.30">101</text>
<text x="233.80" y="391.30">102</text>
</g>
<g font-size="6.8" text-anchor="end" fill="#111" stroke="#111" stroke-width="0.12">
<text x="19.00" y="385.75">0</text>
<text x="19.00" y="364.74">5</text>
<text x="19.00" y="343.73">10</text>
<text x="19.00" y="322.71">15</text>
<text x="19.00" y="301.70">20</text>
<text x="19.00" y="280.69">25</text>
<text x="19.00" y="259.68">30</text>
<text x="19.00" y="238.66">35</text>
<text x="19.00" y="217.65">40</text>
</g>
<text x="129.50" y="404.60" font-size="8.9" text-anchor="middle" fill="#111" stroke="#111" stroke-width="0.18">Compaction degree (%)</text>
<text transform="translate(9.50 299.10) rotate(-90)" font-size="9" text-anchor="middle" fill="#111" stroke="#111" stroke-width="0.18">Frequency (%)</text>
<path d="M32.10 224.60 h16.5" stroke="#ff2a2a" stroke-width="1" fill="none" stroke-dasharray="3 1 .8 1"/>
<text x="53.00" y="227.00" font-size="7.05" fill="#ff2a2a" stroke="#ff2a2a" stroke-width="0.12">Normal distribution</text>
<path d="M32.10 234.60 h16.5" stroke="#1e9a1e" stroke-width="1" fill="none" stroke-dasharray="3 1 .8 1 .8 1"/>
<text x="53.00" y="237.00" font-size="7.05" fill="#1e9a1e" stroke="#1e9a1e" stroke-width="0.12">Lognormal distribution</text>
<path d="M32.10 244.60 h16.5" stroke="#ff8c1a" stroke-width="1" fill="none"/>
<text x="53.00" y="247.00" font-size="7.05" fill="#ff8c1a" stroke="#ff8c1a" stroke-width="0.12">Extreme value distribution</text>
<path d="M32.10 253.70 h16.5" stroke="#c828e6" stroke-width="1" fill="none" stroke-dasharray="3.2 2.4"/>
<text x="53.00" y="256.10" font-size="7.05" fill="#c828e6" stroke="#c828e6" stroke-width="0.12">Sine wave distribution</text>
<text x="121.10" y="420.60" font-size="11.5" font-weight="bold" text-anchor="middle" textLength="13.0" lengthAdjust="spacingAndGlyphs" fill="#111">(c)</text>
</g>
<g class="panel">
<clipPath id="cp3"><rect x="334.10" y="215.30" width="208.00" height="168.10"/></clipPath>
<g fill="url(#bg)" stroke="#0a2c6c" stroke-width="0.75">
<rect x="389.98" y="381.72" width="10.19" height="1.68"/>
<rect x="400.17" y="382.28" width="10.19" height="1.12"/>
<rect x="410.37" y="381.72" width="10.19" height="1.68"/>
<rect x="420.56" y="379.48" width="10.19" height="3.92"/>
<rect x="430.75" y="375.56" width="10.19" height="7.84"/>
<rect x="440.95" y="318.97" width="10.19" height="64.43"/>
<rect x="451.14" y="241.08" width="10.19" height="142.32"/>
<rect x="461.34" y="229.32" width="10.19" height="154.08"/>
<rect x="471.53" y="308.88" width="10.19" height="74.52"/>
<rect x="481.73" y="315.60" width="10.19" height="67.80"/>
<rect x="491.92" y="355.38" width="10.19" height="28.02"/>
<rect x="502.12" y="376.68" width="10.19" height="6.72"/>
<rect x="512.31" y="381.72" width="10.19" height="1.68"/>
<rect x="522.51" y="382.84" width="10.19" height="0.56"/>
<rect x="532.70" y="381.72" width="10.19" height="1.68"/>
</g>
<g fill="none" stroke-width="1.35" clip-path="url(#cp3)" stroke-linejoin="round">
<path d="M345.1 382.3 L345.5 382.3 L345.9 382.3 L346.3 382.3 L346.7 382.3 L347.1 382.3 L347.5 382.3 L347.9 382.3 L348.3 382.3 L348.7 382.3 L349.1 382.3 L349.5 382.3 L349.9 382.3 L350.3 382.3 L350.7 382.3 L351.1 382.3 L351.5 382.3 L351.9 382.3 L352.3 382.3 L352.6 382.3 L353.0 382.3 L353.4 382.3 L353.8 382.3 L354.2 382.3 L354.6 382.3 L355.0 382.3 L355.4 382.3 L355.8 382.3 L356.2 382.3 L356.6 382.3 L357.0 382.3 L357.4 382.3 L357.8 382.3 L358.2 382.3 L358.6 382.3 L359.0 382.3 L359.4 382.3 L359.8 382.3 L360.2 382.3 L360.6 382.3 L361.0 382.3 L361.4 382.3 L361.8 382.3 L362.2 382.3 L362.6 382.3 L363.0 382.3 L363.3 382.3 L363.7 382.3 L364.1 382.3 L364.5 382.3 L364.9 382.3 L365.3 382.3 L365.7 382.3 L366.1 382.3 L366.5 382.3 L366.9 382.3 L367.3 382.3 L367.7 382.3 L368.1 382.3 L368.5 382.3 L368.9 382.3 L369.3 382.3 L369.7 382.3 L370.1 382.3 L370.5 382.3 L370.9 382.3 L371.3 382.3 L371.7 382.3 L372.1 382.3 L372.5 382.3 L372.9 382.3 L373.3 382.3 L373.7 382.3 L374.1 382.3 L374.4 382.3 L374.8 382.3 L375.2 382.3 L375.6 382.3 L376.0 382.3 L376.4 382.3 L376.8 382.3 L377.2 382.3 L377.6 382.3 L378.0 382.3 L378.4 382.3 L378.8 382.3 L379.2 382.3 L379.6 382.3 L380.0 382.3 L380.4 382.3 L380.8 382.3 L381.2 382.3 L381.6 382.3 L382.0 382.3 L382.4 382.3 L382.8 382.3 L383.2 382.3 L383.6 382.3 L384.0 382.3 L384.4 382.3 L384.8 382.3 L385.1 382.3 L385.5 382.3 L385.9 382.3 L386.3 382.3 L386.7 382.3 L387.1 382.3 L387.5 382.3 L387.9 382.3 L388.3 382.3 L388.7 382.3 L389.1 382.3 L389.5 382.3 L389.9 382.3 L390.3 382.3 L390.7 382.3 L391.1 382.3 L391.5 382.3 L391.9 382.3 L392.3 382.3 L392.7 382.3 L393.1 382.3 L393.5 382.3 L393.9 382.3 L394.3 382.3 L394.7 382.3 L395.1 382.3 L395.5 382.3 L395.9 382.3 L396.2 382.3 L396.6 382.3 L397.0 382.3 L397.4 382.3 L397.8 382.3 L398.2 382.3 L398.6 382.3 L399.0 382.3 L399.4 382.3 L399.8 382.3 L400.2 382.3 L400.6 382.3 L401.0 382.3 L401.4 382.3 L401.8 382.3 L402.2 382.3 L402.6 382.3 L403.0 382.3 L403.4 382.3 L403.8 382.3 L404.2 382.3 L404.6 382.3 L405.0 382.3 L405.4 382.3 L405.8 382.3 L406.2 382.3 L406.6 382.3 L406.9 382.3 L407.3 382.3 L407.7 382.3 L408.1 382.3 L408.5 382.3 L408.9 382.3 L409.3 382.3 L409.7 382.3 L410.1 382.3 L410.5 382.3 L410.9 382.3 L411.3 382.3 L411.7 382.3 L412.1 382.3 L412.5 382.3 L412.9 382.3 L413.3 382.3 L413.7 382.3 L414.1 382.3 L414.5 382.3 L414.9 382.3 L415.3 382.3 L415.7 382.3 L416.1 382.3 L416.5 382.3 L416.9 382.3 L417.3 382.3 L417.7 382.3 L418.0 382.3 L418.4 382.3 L418.8 382.3 L419.2 382.3 L419.6 382.3 L420.0 382.3 L420.4 382.3 L420.8 382.3 L421.2 382.3 L421.6 382.3 L422.0 382.3 L422.4 382.3 L422.8 382.3 L423.2 382.3 L423.6 382.3 L424.0 382.3 L424.4 382.3 L424.8 382.3 L425.2 382.3 L425.6 382.3 L426.0 382.3 L426.4 382.3 L426.8 382.2 L427.2 382.2 L427.6 382.2 L428.0 382.2 L428.4 382.2 L428.7 382.1 L429.1 382.1 L429.5 382.0 L429.9 381.9 L430.3 381.8 L430.7 381.7 L431.1 381.6 L431.5 381.4 L431.9 381.3 L432.3 381.0 L432.7 380.8 L433.1 380.4 L433.5 380.1 L433.9 379.7 L434.3 379.2 L434.7 378.6 L435.1 378.0 L435.5 377.3 L435.9 376.5 L436.3 375.6 L436.7 374.6 L437.1 373.5 L437.5 372.3 L437.9 371.0 L438.3 369.6 L438.7 368.0 L439.1 366.3 L439.5 364.5 L439.8 362.5 L440.2 360.5 L440.6 358.2 L441.0 355.9 L441.4 353.4 L441.8 350.8 L442.2 348.1 L442.6 345.2 L443.0 342.3 L443.4 339.2 L443.8 336.0 L444.2 332.7 L444.6 329.4 L445.0 326.0 L445.4 322.4 L445.8 318.9 L446.2 315.3 L446.6 311.6 L447.0 307.9 L447.4 304.3 L447.8 300.6 L448.2 296.9 L448.6 293.2 L449.0 289.5 L449.4 285.9 L449.8 282.4 L450.2 278.8 L450.5 275.4 L450.9 272.0 L451.3 268.8 L451.7 265.6 L452.1 262.5 L452.5 259.5 L452.9 256.6 L453.3 253.9 L453.7 251.3 L454.1 248.8 L454.5 246.4 L454.9 244.2 L455.3 242.1 L455.7 240.2 L456.1 238.4 L456.5 236.8 L456.9 235.3 L457.3 233.9 L457.7 232.7 L458.1 231.7 L458.5 230.7 L458.9 230.0 L459.3 229.3 L459.7 228.9 L460.1 228.5 L460.5 228.3 L460.9 228.2 L461.3 228.2 L461.6 228.4 L462.0 228.8 L462.4 229.2 L462.8 229.8 L463.2 230.5 L463.6 231.3 L464.0 232.3 L464.4 233.3 L464.8 234.5 L465.2 235.7 L465.6 237.0 L466.0 238.4 L466.4 239.9 L466.8 241.5 L467.2 243.1 L467.6 244.8 L468.0 246.5 L468.4 248.3 L468.8 250.2 L469.2 252.0 L469.6 254.0 L470.0 255.9 L470.4 257.9 L470.8 259.9 L471.2 261.9 L471.6 264.0 L472.0 266.0 L472.3 268.1 L472.7 270.2 L473.1 272.3 L473.5 274.4 L473.9 276.4 L474.3 278.5 L474.7 280.6 L475.1 282.6 L475.5 284.7 L475.9 286.7 L476.3 288.8 L476.7 290.8 L477.1 292.7 L477.5 294.7 L477.9 296.7 L478.3 298.6 L478.7 300.5 L479.1 302.4 L479.5 304.2 L479.9 306.0 L480.3 307.9 L480.7 309.6 L481.1 311.4 L481.5 313.1 L481.9 314.8 L482.3 316.4 L482.7 318.1 L483.0 319.7 L483.4 321.2 L483.8 322.8 L484.2 324.3 L484.6 325.8 L485.0 327.2 L485.4 328.7 L485.8 330.0 L486.2 331.4 L486.6 332.7 L487.0 334.1 L487.4 335.3 L487.8 336.6 L488.2 337.8 L488.6 339.0 L489.0 340.2 L489.4 341.3 L489.8 342.4 L490.2 343.5 L490.6 344.6 L491.0 345.6 L491.4 346.6 L491.8 347.6 L492.2 348.6 L492.6 349.5 L493.0 350.4 L493.4 351.3 L493.8 352.2 L494.1 353.0 L494.5 353.8 L494.9 354.6 L495.3 355.4 L495.7 356.2 L496.1 356.9 L496.5 357.6 L496.9 358.4 L497.3 359.0 L497.7 359.7 L498.1 360.3 L498.5 361.0 L498.9 361.6 L499.3 362.2 L499.7 362.8 L500.1 363.3 L500.5 363.9 L500.9 364.4 L501.3 364.9 L501.7 365.4 L502.1 365.9 L502.5 366.4 L502.9 366.9 L503.3 367.3 L503.7 367.8 L504.1 368.2 L504.5 368.6 L504.8 369.0 L505.2 369.4 L505.6 369.8 L506.0 370.1 L506.4 370.5 L506.8 370.8 L507.2 371.2 L507.6 371.5 L508.0 371.8 L508.4 372.1 L508.8 372.4 L509.2 372.7 L509.6 373.0 L510.0 373.3 L510.4 373.6 L510.8 373.8 L511.2 374.1 L511.6 374.3 L512.0 374.6 L512.4 374.8 L512.8 375.0 L513.2 375.2 L513.6 375.4 L514.0 375.6 L514.4 375.8 L514.8 376.0 L515.2 376.2 L515.6 376.4 L515.9 376.6 L516.3 376.7 L516.7 376.9 L517.1 377.1 L517.5 377.2 L517.9 377.4 L518.3 377.5 L518.7 377.7 L519.1 377.8 L519.5 377.9 L519.9 378.1 L520.3 378.2 L520.7 378.3 L521.1 378.4 L521.5 378.6 L521.9 378.7 L522.3 378.8 L522.7 378.9 L523.1 379.0 L523.5 379.1 L523.9 379.2 L524.3 379.3 L524.7 379.4 L525.1 379.5 L525.5 379.5 L525.9 379.6 L526.3 379.7 L526.6 379.8 L527.0 379.9 L527.4 379.9 L527.8 380.0 L528.2 380.1 L528.6 380.1 L529.0 380.2 L529.4 380.3 L529.8 380.3 L530.2 380.4 L530.6 380.4 L531.0 380.5 L531.4 380.6 L531.8 380.6 L532.2 380.7 L532.6 380.7 L533.0 380.8 L533.4 380.8 L533.8 380.8 L534.2 380.9 L534.6 380.9 L535.0 381.0 L535.4 381.0 L535.8 381.0 L536.2 381.1 L536.6 381.1 L537.0 381.2 L537.4 381.2 L537.7 381.2 L538.1 381.3 L538.5 381.3 L538.9 381.3 L539.3 381.3 L539.7 381.4 L540.1 381.4 L540.5 381.4 L540.9 381.5 L541.3 381.5 L541.7 381.5 L542.1 381.5 L542.5 381.5 L542.9 381.6" stroke="#ff8c1a"/>
<path d="M345.1 382.3 L345.5 382.3 L345.9 382.3 L346.3 382.3 L346.7 382.3 L347.1 382.3 L347.5 382.3 L347.9 382.3 L348.3 382.3 L348.7 382.3 L349.1 382.3 L349.5 382.3 L349.9 382.3 L350.3 382.3 L350.7 382.3 L351.1 382.3 L351.5 382.3 L351.9 382.3 L352.3 382.3 L352.6 382.3 L353.0 382.3 L353.4 382.3 L353.8 382.3 L354.2 382.3 L354.6 382.3 L355.0 382.3 L355.4 382.3 L355.8 382.3 L356.2 382.3 L356.6 382.3 L357.0 382.3 L357.4 382.3 L357.8 382.3 L358.2 382.3 L358.6 382.3 L359.0 382.3 L359.4 382.3 L359.8 382.3 L360.2 382.3 L360.6 382.3 L361.0 382.3 L361.4 382.3 L361.8 382.3 L362.2 382.3 L362.6 382.3 L363.0 382.3 L363.3 382.3 L363.7 382.3 L364.1 382.3 L364.5 382.3 L364.9 382.3 L365.3 382.3 L365.7 382.3 L366.1 382.3 L366.5 382.3 L366.9 382.3 L367.3 382.3 L367.7 382.3 L368.1 382.3 L368.5 382.3 L368.9 382.3 L369.3 382.3 L369.7 382.3 L370.1 382.3 L370.5 382.3 L370.9 382.3 L371.3 382.3 L371.7 382.3 L372.1 382.3 L372.5 382.3 L372.9 382.3 L373.3 382.3 L373.7 382.3 L374.1 382.3 L374.4 382.3 L374.8 382.3 L375.2 382.3 L375.6 382.3 L376.0 382.3 L376.4 382.3 L376.8 382.3 L377.2 382.3 L377.6 382.3 L378.0 382.3 L378.4 382.3 L378.8 382.3 L379.2 382.3 L379.6 382.3 L380.0 382.3 L380.4 382.3 L380.8 382.3 L381.2 382.3 L381.6 382.3 L382.0 382.3 L382.4 382.3 L382.8 382.3 L383.2 382.3 L383.6 382.3 L384.0 382.3 L384.4 382.3 L384.8 382.3 L385.1 382.3 L385.5 382.3 L385.9 382.3 L386.3 382.3 L386.7 382.3 L387.1 382.3 L387.5 382.3 L387.9 382.3 L388.3 382.3 L388.7 382.3 L389.1 382.3 L389.5 382.3 L389.9 382.3 L390.3 382.3 L390.7 382.3 L391.1 382.3 L391.5 382.3 L391.9 382.3 L392.3 382.3 L392.7 382.3 L393.1 382.3 L393.5 382.3 L393.9 382.3 L394.3 382.3 L394.7 382.3 L395.1 382.3 L395.5 382.3 L395.9 382.3 L396.2 382.3 L396.6 382.3 L397.0 382.3 L397.4 382.3 L397.8 382.3 L398.2 382.3 L398.6 382.3 L399.0 382.3 L399.4 382.3 L399.8 382.3 L400.2 382.3 L400.6 382.3 L401.0 382.3 L401.4 382.3 L401.8 382.3 L402.2 382.3 L402.6 382.3 L403.0 382.3 L403.4 382.3 L403.8 382.3 L404.2 382.2 L404.6 382.2 L405.0 382.2 L405.4 382.2 L405.8 382.2 L406.2 382.2 L406.6 382.2 L406.9 382.2 L407.3 382.2 L407.7 382.2 L408.1 382.2 L408.5 382.2 L408.9 382.2 L409.3 382.2 L409.7 382.1 L410.1 382.1 L410.5 382.1 L410.9 382.1 L411.3 382.1 L411.7 382.1 L412.1 382.0 L412.5 382.0 L412.9 382.0 L413.3 381.9 L413.7 381.9 L414.1 381.9 L414.5 381.8 L414.9 381.8 L415.3 381.8 L415.7 381.7 L416.1 381.7 L416.5 381.6 L416.9 381.5 L417.3 381.5 L417.7 381.4 L418.0 381.3 L418.4 381.2 L418.8 381.1 L419.2 381.0 L419.6 380.9 L420.0 380.8 L420.4 380.7 L420.8 380.6 L421.2 380.4 L421.6 380.3 L422.0 380.1 L422.4 379.9 L422.8 379.7 L423.2 379.5 L423.6 379.3 L424.0 379.1 L424.4 378.8 L424.8 378.6 L425.2 378.3 L425.6 378.0 L426.0 377.7 L426.4 377.3 L426.8 377.0 L427.2 376.6 L427.6 376.2 L428.0 375.8 L428.4 375.3 L428.7 374.9 L429.1 374.4 L429.5 373.8 L429.9 373.3 L430.3 372.7 L430.7 372.1 L431.1 371.4 L431.5 370.7 L431.9 370.0 L432.3 369.2 L432.7 368.4 L433.1 367.6 L433.5 366.8 L433.9 365.8 L434.3 364.9 L434.7 363.9 L435.1 362.9 L435.5 361.8 L435.9 360.7 L436.3 359.5 L436.7 358.3 L437.1 357.1 L437.5 355.8 L437.9 354.4 L438.3 353.0 L438.7 351.6 L439.1 350.1 L439.5 348.5 L439.8 346.9 L440.2 345.3 L440.6 343.6 L441.0 341.9 L441.4 340.1 L441.8 338.3 L442.2 336.4 L442.6 334.5 L443.0 332.5 L443.4 330.5 L443.8 328.5 L444.2 326.4 L444.6 324.3 L445.0 322.1 L445.4 319.9 L445.8 317.7 L446.2 315.4 L446.6 313.1 L447.0 310.8 L447.4 308.4 L447.8 306.0 L448.2 303.7 L448.6 301.2 L449.0 298.8 L449.4 296.4 L449.8 293.9 L450.2 291.5 L450.5 289.1 L450.9 286.6 L451.3 284.2 L451.7 281.7 L452.1 279.3 L452.5 276.9 L452.9 274.6 L453.3 272.2 L453.7 269.9 L454.1 267.6 L454.5 265.4 L454.9 263.2 L455.3 261.0 L455.7 258.9 L456.1 256.8 L456.5 254.8 L456.9 252.9 L457.3 251.0 L457.7 249.2 L458.1 247.5 L458.5 245.8 L458.9 244.3 L459.3 242.8 L459.7 241.4 L460.1 240.0 L460.5 238.8 L460.9 237.7 L461.3 236.6 L461.6 235.7 L462.0 234.8 L462.4 234.1 L462.8 233.5 L463.2 232.9 L463.6 232.5 L464.0 232.2 L464.4 232.0 L464.8 231.9 L465.2 231.9 L465.6 232.0 L466.0 232.2 L466.4 232.6 L466.8 233.1 L467.2 233.7 L467.6 234.4 L468.0 235.3 L468.4 236.2 L468.8 237.3 L469.2 238.5 L469.6 239.8 L470.0 241.2 L470.4 242.7 L470.8 244.2 L471.2 245.9 L471.6 247.7 L472.0 249.6 L472.3 251.5 L472.7 253.5 L473.1 255.6 L473.5 257.8 L473.9 260.0 L474.3 262.3 L474.7 264.6 L475.1 267.0 L475.5 269.4 L475.9 271.9 L476.3 274.4 L476.7 276.9 L477.1 279.4 L477.5 282.0 L477.9 284.6 L478.3 287.2 L478.7 289.8 L479.1 292.4 L479.5 295.0 L479.9 297.6 L480.3 300.2 L480.7 302.8 L481.1 305.3 L481.5 307.9 L481.9 310.4 L482.3 312.9 L482.7 315.3 L483.0 317.7 L483.4 320.1 L483.8 322.5 L484.2 324.8 L484.6 327.0 L485.0 329.2 L485.4 331.4 L485.8 333.5 L486.2 335.6 L486.6 337.6 L487.0 339.6 L487.4 341.5 L487.8 343.3 L488.2 345.1 L488.6 346.9 L489.0 348.6 L489.4 350.2 L489.8 351.8 L490.2 353.3 L490.6 354.8 L491.0 356.2 L491.4 357.6 L491.8 358.9 L492.2 360.2 L492.6 361.4 L493.0 362.6 L493.4 363.7 L493.8 364.7 L494.1 365.7 L494.5 366.7 L494.9 367.6 L495.3 368.5 L495.7 369.4 L496.1 370.2 L496.5 370.9 L496.9 371.6 L497.3 372.3 L497.7 373.0 L498.1 373.6 L498.5 374.2 L498.9 374.7 L499.3 375.2 L499.7 375.7 L500.1 376.2 L500.5 376.6 L500.9 377.0 L501.3 377.4 L501.7 377.7 L502.1 378.1 L502.5 378.4 L502.9 378.7 L503.3 378.9 L503.7 379.2 L504.1 379.4 L504.5 379.6 L504.8 379.9 L505.2 380.0 L505.6 380.2 L506.0 380.4 L506.4 380.5 L506.8 380.7 L507.2 380.8 L507.6 380.9 L508.0 381.1 L508.4 381.2 L508.8 381.3 L509.2 381.3 L509.6 381.4 L510.0 381.5 L510.4 381.6 L510.8 381.6 L511.2 381.7 L511.6 381.7 L512.0 381.8 L512.4 381.8 L512.8 381.9 L513.2 381.9 L513.6 382.0 L514.0 382.0 L514.4 382.0 L514.8 382.0 L515.2 382.1 L515.6 382.1 L515.9 382.1 L516.3 382.1 L516.7 382.1 L517.1 382.2 L517.5 382.2 L517.9 382.2 L518.3 382.2 L518.7 382.2 L519.1 382.2 L519.5 382.2 L519.9 382.2 L520.3 382.2 L520.7 382.2 L521.1 382.2 L521.5 382.2 L521.9 382.2 L522.3 382.2 L522.7 382.3 L523.1 382.3 L523.5 382.3 L523.9 382.3 L524.3 382.3 L524.7 382.3 L525.1 382.3 L525.5 382.3 L525.9 382.3 L526.3 382.3 L526.6 382.3 L527.0 382.3 L527.4 382.3 L527.8 382.3 L528.2 382.3 L528.6 382.3 L529.0 382.3 L529.4 382.3 L529.8 382.3 L530.2 382.3 L530.6 382.3 L531.0 382.3 L531.4 382.3 L531.8 382.3 L532.2 382.3 L532.6 382.3 L533.0 382.3 L533.4 382.3 L533.8 382.3 L534.2 382.3 L534.6 382.3 L535.0 382.3 L535.4 382.3 L535.8 382.3 L536.2 382.3 L536.6 382.3 L537.0 382.3 L537.4 382.3 L537.7 382.3 L538.1 382.3 L538.5 382.3 L538.9 382.3 L539.3 382.3 L539.7 382.3 L540.1 382.3 L540.5 382.3 L540.9 382.3 L541.3 382.3 L541.7 382.3 L542.1 382.3 L542.5 382.3 L542.9 382.3" stroke="#1e9a1e" stroke-dasharray="3 1 .8 1 .8 1"/>
<path d="M345.1 382.3 L345.5 382.3 L345.9 382.3 L346.3 382.3 L346.7 382.3 L347.1 382.3 L347.5 382.3 L347.9 382.3 L348.3 382.3 L348.7 382.3 L349.1 382.3 L349.5 382.3 L349.9 382.3 L350.3 382.3 L350.7 382.3 L351.1 382.3 L351.5 382.3 L351.9 382.3 L352.3 382.3 L352.6 382.3 L353.0 382.3 L353.4 382.3 L353.8 382.3 L354.2 382.3 L354.6 382.3 L355.0 382.3 L355.4 382.3 L355.8 382.3 L356.2 382.3 L356.6 382.3 L357.0 382.3 L357.4 382.3 L357.8 382.3 L358.2 382.3 L358.6 382.3 L359.0 382.3 L359.4 382.3 L359.8 382.3 L360.2 382.3 L360.6 382.3 L361.0 382.3 L361.4 382.3 L361.8 382.3 L362.2 382.3 L362.6 382.3 L363.0 382.3 L363.3 382.3 L363.7 382.3 L364.1 382.3 L364.5 382.3 L364.9 382.3 L365.3 382.3 L365.7 382.3 L366.1 382.3 L366.5 382.3 L366.9 382.3 L367.3 382.3 L367.7 382.3 L368.1 382.3 L368.5 382.3 L368.9 382.3 L369.3 382.3 L369.7 382.3 L370.1 382.3 L370.5 382.3 L370.9 382.3 L371.3 382.3 L371.7 382.3 L372.1 382.3 L372.5 382.3 L372.9 382.3 L373.3 382.3 L373.7 382.3 L374.1 382.3 L374.4 382.3 L374.8 382.3 L375.2 382.3 L375.6 382.3 L376.0 382.3 L376.4 382.3 L376.8 382.3 L377.2 382.3 L377.6 382.3 L378.0 382.3 L378.4 382.3 L378.8 382.3 L379.2 382.3 L379.6 382.3 L380.0 382.3 L380.4 382.3 L380.8 382.3 L381.2 382.3 L381.6 382.3 L382.0 382.3 L382.4 382.3 L382.8 382.3 L383.2 382.3 L383.6 382.3 L384.0 382.3 L384.4 382.3 L384.8 382.3 L385.1 382.3 L385.5 382.3 L385.9 382.3 L386.3 382.3 L386.7 382.3 L387.1 382.3 L387.5 382.3 L387.9 382.3 L388.3 382.3 L388.7 382.3 L389.1 382.3 L389.5 382.3 L389.9 382.3 L390.3 382.3 L390.7 382.3 L391.1 382.3 L391.5 382.3 L391.9 382.3 L392.3 382.3 L392.7 382.3 L393.1 382.3 L393.5 382.3 L393.9 382.3 L394.3 382.3 L394.7 382.3 L395.1 382.3 L395.5 382.3 L395.9 382.3 L396.2 382.3 L396.6 382.3 L397.0 382.3 L397.4 382.3 L397.8 382.3 L398.2 382.3 L398.6 382.3 L399.0 382.3 L399.4 382.3 L399.8 382.3 L400.2 382.3 L400.6 382.3 L401.0 382.3 L401.4 382.3 L401.8 382.3 L402.2 382.3 L402.6 382.3 L403.0 382.3 L403.4 382.3 L403.8 382.2 L404.2 382.2 L404.6 382.2 L405.0 382.2 L405.4 382.2 L405.8 382.2 L406.2 382.2 L406.6 382.2 L406.9 382.2 L407.3 382.2 L407.7 382.2 L408.1 382.2 L408.5 382.2 L408.9 382.2 L409.3 382.1 L409.7 382.1 L410.1 382.1 L410.5 382.1 L410.9 382.1 L411.3 382.1 L411.7 382.0 L412.1 382.0 L412.5 382.0 L412.9 382.0 L413.3 381.9 L413.7 381.9 L414.1 381.8 L414.5 381.8 L414.9 381.8 L415.3 381.7 L415.7 381.7 L416.1 381.6 L416.5 381.5 L416.9 381.5 L417.3 381.4 L417.7 381.3 L418.0 381.2 L418.4 381.1 L418.8 381.1 L419.2 380.9 L419.6 380.8 L420.0 380.7 L420.4 380.6 L420.8 380.4 L421.2 380.3 L421.6 380.1 L422.0 379.9 L422.4 379.8 L422.8 379.6 L423.2 379.4 L423.6 379.1 L424.0 378.9 L424.4 378.6 L424.8 378.3 L425.2 378.1 L425.6 377.7 L426.0 377.4 L426.4 377.1 L426.8 376.7 L427.2 376.3 L427.6 375.9 L428.0 375.4 L428.4 375.0 L428.7 374.5 L429.1 373.9 L429.5 373.4 L429.9 372.8 L430.3 372.2 L430.7 371.6 L431.1 370.9 L431.5 370.2 L431.9 369.4 L432.3 368.7 L432.7 367.8 L433.1 367.0 L433.5 366.1 L433.9 365.2 L434.3 364.2 L434.7 363.2 L435.1 362.1 L435.5 361.0 L435.9 359.9 L436.3 358.7 L436.7 357.4 L437.1 356.1 L437.5 354.8 L437.9 353.4 L438.3 352.0 L438.7 350.5 L439.1 349.0 L439.5 347.4 L439.8 345.8 L440.2 344.2 L440.6 342.4 L441.0 340.7 L441.4 338.9 L441.8 337.0 L442.2 335.1 L442.6 333.2 L443.0 331.2 L443.4 329.2 L443.8 327.1 L444.2 325.0 L444.6 322.8 L445.0 320.7 L445.4 318.4 L445.8 316.2 L446.2 313.9 L446.6 311.6 L447.0 309.3 L447.4 306.9 L447.8 304.5 L448.2 302.1 L448.6 299.7 L449.0 297.3 L449.4 294.9 L449.8 292.4 L450.2 290.0 L450.5 287.6 L450.9 285.1 L451.3 282.7 L451.7 280.3 L452.1 277.9 L452.5 275.5 L452.9 273.2 L453.3 270.8 L453.7 268.5 L454.1 266.3 L454.5 264.1 L454.9 261.9 L455.3 259.8 L455.7 257.7 L456.1 255.7 L456.5 253.7 L456.9 251.8 L457.3 250.0 L457.7 248.2 L458.1 246.6 L458.5 245.0 L458.9 243.4 L459.3 242.0 L459.7 240.6 L460.1 239.4 L460.5 238.2 L460.9 237.1 L461.3 236.1 L461.6 235.2 L462.0 234.4 L462.4 233.7 L462.8 233.2 L463.2 232.7 L463.6 232.3 L464.0 232.0 L464.4 231.9 L464.8 231.8 L465.2 231.9 L465.6 232.1 L466.0 232.4 L466.4 232.8 L466.8 233.4 L467.2 234.1 L467.6 234.9 L468.0 235.8 L468.4 236.8 L468.8 238.0 L469.2 239.2 L469.6 240.6 L470.0 242.1 L470.4 243.6 L470.8 245.3 L471.2 247.0 L471.6 248.9 L472.0 250.8 L472.3 252.8 L472.7 254.9 L473.1 257.0 L473.5 259.3 L473.9 261.5 L474.3 263.9 L474.7 266.3 L475.1 268.7 L475.5 271.2 L475.9 273.7 L476.3 276.2 L476.7 278.8 L477.1 281.4 L477.5 284.0 L477.9 286.6 L478.3 289.2 L478.7 291.8 L479.1 294.5 L479.5 297.1 L479.9 299.7 L480.3 302.3 L480.7 304.9 L481.1 307.4 L481.5 310.0 L481.9 312.5 L482.3 314.9 L482.7 317.4 L483.0 319.8 L483.4 322.2 L483.8 324.5 L484.2 326.8 L484.6 329.0 L485.0 331.2 L485.4 333.3 L485.8 335.4 L486.2 337.4 L486.6 339.4 L487.0 341.3 L487.4 343.2 L487.8 345.0 L488.2 346.8 L488.6 348.5 L489.0 350.2 L489.4 351.8 L489.8 353.3 L490.2 354.8 L490.6 356.2 L491.0 357.6 L491.4 358.9 L491.8 360.2 L492.2 361.4 L492.6 362.6 L493.0 363.7 L493.4 364.8 L493.8 365.8 L494.1 366.8 L494.5 367.7 L494.9 368.6 L495.3 369.4 L495.7 370.2 L496.1 371.0 L496.5 371.7 L496.9 372.4 L497.3 373.0 L497.7 373.7 L498.1 374.2 L498.5 374.8 L498.9 375.3 L499.3 375.8 L499.7 376.2 L500.1 376.7 L500.5 377.1 L500.9 377.4 L501.3 377.8 L501.7 378.1 L502.1 378.4 L502.5 378.7 L502.9 379.0 L503.3 379.2 L503.7 379.5 L504.1 379.7 L504.5 379.9 L504.8 380.1 L505.2 380.3 L505.6 380.4 L506.0 380.6 L506.4 380.7 L506.8 380.9 L507.2 381.0 L507.6 381.1 L508.0 381.2 L508.4 381.3 L508.8 381.4 L509.2 381.5 L509.6 381.5 L510.0 381.6 L510.4 381.7 L510.8 381.7 L511.2 381.8 L511.6 381.8 L512.0 381.9 L512.4 381.9 L512.8 381.9 L513.2 382.0 L513.6 382.0 L514.0 382.0 L514.4 382.0 L514.8 382.1 L515.2 382.1 L515.6 382.1 L515.9 382.1 L516.3 382.1 L516.7 382.2 L517.1 382.2 L517.5 382.2 L517.9 382.2 L518.3 382.2 L518.7 382.2 L519.1 382.2 L519.5 382.2 L519.9 382.2 L520.3 382.2 L520.7 382.2 L521.1 382.2 L521.5 382.2 L521.9 382.3 L522.3 382.3 L522.7 382.3 L523.1 382.3 L523.5 382.3 L523.9 382.3 L524.3 382.3 L524.7 382.3 L525.1 382.3 L525.5 382.3 L525.9 382.3 L526.3 382.3 L526.6 382.3 L527.0 382.3 L527.4 382.3 L527.8 382.3 L528.2 382.3 L528.6 382.3 L529.0 382.3 L529.4 382.3 L529.8 382.3 L530.2 382.3 L530.6 382.3 L531.0 382.3 L531.4 382.3 L531.8 382.3 L532.2 382.3 L532.6 382.3 L533.0 382.3 L533.4 382.3 L533.8 382.3 L534.2 382.3 L534.6 382.3 L535.0 382.3 L535.4 382.3 L535.8 382.3 L536.2 382.3 L536.6 382.3 L537.0 382.3 L537.4 382.3 L537.7 382.3 L538.1 382.3 L538.5 382.3 L538.9 382.3 L539.3 382.3 L539.7 382.3 L540.1 382.3 L540.5 382.3 L540.9 382.3 L541.3 382.3 L541.7 382.3 L542.1 382.3 L542.5 382.3 L542.9 382.3" stroke="#ff2a2a" stroke-dasharray="3 1 .8 1"/>
<path d="M401.1 382.8 L401.6 382.2 L402.1 381.6 L402.7 380.9 L403.2 380.3 L403.8 379.6 L404.3 379.0 L404.9 378.3 L405.4 377.6 L406.0 376.9 L406.5 376.3 L407.1 375.6 L407.6 374.9 L408.1 374.1 L408.7 373.4 L409.2 372.7 L409.8 372.0 L410.3 371.2 L410.9 370.5 L411.4 369.8 L412.0 369.0 L412.5 368.3 L413.1 367.5 L413.6 366.7 L414.1 366.0 L414.7 365.2 L415.2 364.4 L415.8 363.6 L416.3 362.9 L416.9 362.1 L417.4 361.3 L418.0 360.5 L418.5 359.7 L419.1 358.9 L419.6 358.1 L420.2 357.3 L420.7 356.5 L421.2 355.7 L421.8 354.9 L422.3 354.1 L422.9 353.3 L423.4 352.5 L424.0 351.7 L424.5 350.9 L425.1 350.1 L425.6 349.3 L426.2 348.6 L426.7 347.8 L427.2 347.0 L427.8 346.2 L428.3 345.4 L428.9 344.6 L429.4 343.8 L430.0 343.1 L430.5 342.3 L431.1 341.5 L431.6 340.7 L432.2 340.0 L432.7 339.2 L433.2 338.5 L433.8 337.7 L434.3 337.0 L434.9 336.2 L435.4 335.5 L436.0 334.8 L436.5 334.1 L437.1 333.4 L437.6 332.6 L438.2 331.9 L438.7 331.3 L439.2 330.6 L439.8 329.9 L440.3 329.2 L440.9 328.6 L441.4 327.9 L442.0 327.2 L442.5 326.6 L443.1 326.0 L443.6 325.4 L444.2 324.7 L444.7 324.1 L445.2 323.5 L445.8 323.0 L446.3 322.4 L446.9 321.8 L447.4 321.3 L448.0 320.7 L448.5 320.2 L449.1 319.7 L449.6 319.1 L450.2 318.6 L450.7 318.2 L451.2 317.7 L451.8 317.2 L452.3 316.8 L452.9 316.3 L453.4 315.9 L454.0 315.5 L454.5 315.0 L455.1 314.6 L455.6 314.3 L456.2 313.9 L456.7 313.5 L457.2 313.2 L457.8 312.9 L458.3 312.5 L458.9 312.2 L459.4 311.9 L460.0 311.7 L460.5 311.4 L461.1 311.1 L461.6 310.9 L462.2 310.7 L462.7 310.4 L463.2 310.2 L463.8 310.1 L464.3 309.9 L464.9 309.7 L465.4 309.6 L466.0 309.5 L466.5 309.3 L467.1 309.2 L467.6 309.1 L468.2 309.1 L468.7 309.0 L469.3 309.0 L469.8 308.9 L470.3 308.9 L470.9 308.9 L471.4 308.9 L472.0 308.9 L472.5 309.0 L473.1 309.0 L473.6 309.1 L474.2 309.2 L474.7 309.3 L475.3 309.4 L475.8 309.5 L476.3 309.6 L476.9 309.8 L477.4 310.0 L478.0 310.1 L478.5 310.3 L479.1 310.5 L479.6 310.8 L480.2 311.0 L480.7 311.2 L481.3 311.5 L481.8 311.8 L482.3 312.1 L482.9 312.4 L483.4 312.7 L484.0 313.0 L484.5 313.3 L485.1 313.7 L485.6 314.1 L486.2 314.4 L486.7 314.8 L487.3 315.2 L487.8 315.6 L488.3 316.1 L488.9 316.5 L489.4 317.0 L490.0 317.4 L490.5 317.9 L491.1 318.4 L491.6 318.9 L492.2 319.4 L492.7 319.9 L493.3 320.4 L493.8 321.0 L494.3 321.5 L494.9 322.1 L495.4 322.7 L496.0 323.2 L496.5 323.8 L497.1 324.4 L497.6 325.0 L498.2 325.6 L498.7 326.3 L499.3 326.9 L499.8 327.5 L500.3 328.2 L500.9 328.9 L501.4 329.5 L502.0 330.2 L502.5 330.9 L503.1 331.6 L503.6 332.3 L504.2 333.0 L504.7 333.7 L505.3 334.4 L505.8 335.1 L506.3 335.9 L506.9 336.6 L507.4 337.3 L508.0 338.1 L508.5 338.8 L509.1 339.6 L509.6 340.3 L510.2 341.1 L510.7 341.9 L511.3 342.6 L511.8 343.4 L512.3 344.2 L512.9 345.0 L513.4 345.8 L514.0 346.5 L514.5 347.3 L515.1 348.1 L515.6 348.9 L516.2 349.7 L516.7 350.5 L517.3 351.3 L517.8 352.1 L518.4 352.9 L518.9 353.7 L519.4 354.5 L520.0 355.3 L520.5 356.1 L521.1 356.9 L521.6 357.7 L522.2 358.5 L522.7 359.3 L523.3 360.1 L523.8 360.9 L524.4 361.7 L524.9 362.4 L525.4 363.2 L526.0 364.0 L526.5 364.8 L527.1 365.6 L527.6 366.3 L528.2 367.1 L528.7 367.8 L529.3 368.6 L529.8 369.4 L530.4 370.1 L530.9 370.8 L531.4 371.6 L532.0 372.3 L532.5 373.0 L533.1 373.8 L533.6 374.5 L534.2 375.2 L534.7 375.9 L535.3 376.6 L535.8 377.3 L536.4 377.9 L536.9 378.6 L537.4 379.3 L538.0 379.9 L538.5 380.6 L539.1 381.2 L539.6 381.9 L540.2 382.5 L540.7 383.1" stroke="#c828e6" stroke-dasharray="3.2 2.4"/>
</g>
<rect x="334.10" y="215.30" width="208.00" height="168.10" fill="none" stroke="#2a2a2a" stroke-width="1"/>
<path d="M339.00 383.40 v2.40 M359.39 383.40 v2.40 M379.78 383.40 v2.40 M400.17 383.40 v2.40 M420.56 383.40 v2.40 M440.95 383.40 v2.40 M461.34 383.40 v2.40 M481.73 383.40 v2.40 M502.12 383.40 v2.40 M522.51 383.40 v2.40 M542.10 383.40 v2.40 M344.30 215.30 v1.70 M354.49 215.30 v3.30 M364.69 215.30 v1.70 M374.88 215.30 v3.30 M385.08 215.30 v1.70 M395.27 215.30 v3.30 M405.47 215.30 v1.70 M415.66 215.30 v3.30 M425.86 215.30 v1.70 M436.05 215.30 v3.30 M446.25 215.30 v1.70 M456.44 215.30 v3.30 M466.63 215.30 v1.70 M476.83 215.30 v3.30 M487.02 215.30 v1.70 M497.22 215.30 v3.30 M507.41 215.30 v1.70 M517.61 215.30 v3.30 M527.81 215.30 v1.70 M538.00 215.30 v3.30 M334.10 383.40 h-3.30 M542.10 383.40 h-3.30 M334.10 369.39 h-1.70 M542.10 369.39 h-1.70 M334.10 355.38 h-3.30 M542.10 355.38 h-3.30 M334.10 341.38 h-1.70 M542.10 341.38 h-1.70 M334.10 327.37 h-3.30 M542.10 327.37 h-3.30 M334.10 313.36 h-1.70 M542.10 313.36 h-1.70 M334.10 299.35 h-3.30 M542.10 299.35 h-3.30 M334.10 285.35 h-1.70 M542.10 285.35 h-1.70 M334.10 271.34 h-3.30 M542.10 271.34 h-3.30 M334.10 257.33 h-1.70 M542.10 257.33 h-1.70 M334.10 243.32 h-3.30 M542.10 243.32 h-3.30 M334.10 229.32 h-1.70 M542.10 229.32 h-1.70 M334.10 215.31 h-3.30 M542.10 215.31 h-3.30" stroke="#2a2a2a" stroke-width="0.95" fill="none"/>
<g font-size="5.5" text-anchor="middle" fill="#222" stroke="#222" stroke-width="0.1">
<text x="338.40" y="391.30">92</text>
<text x="358.79" y="391.30">93</text>
<text x="379.18" y="391.30">94</text>
<text x="399.57" y="391.30">95</text>
<text x="419.96" y="391.30">96</text>
<text x="440.35" y="391.30">97</text>
<text x="460.74" y="391.30">98</text>
<text x="481.13" y="391.30">99</text>
<text x="501.52" y="391.30">100</text>
<text x="521.91" y="391.30">101</text>
<text x="542.30" y="391.30">102</text>
</g>
<g font-size="6.8" text-anchor="end" fill="#111" stroke="#111" stroke-width="0.12">
<text x="328.40" y="385.75">0</text>
<text x="328.40" y="357.74">5</text>
<text x="328.40" y="329.72">10</text>
<text x="328.40" y="301.70">15</text>
<text x="328.40" y="273.69">20</text>
<text x="328.40" y="245.67">25</text>
<text x="328.40" y="217.66">30</text>
</g>
<text x="437.80" y="404.50" font-size="8.9" text-anchor="middle" fill="#111" stroke="#111" stroke-width="0.18">Compaction degree (%)</text>
<text transform="translate(317.70 299.10) rotate(-90)" font-size="9" text-anchor="middle" fill="#111" stroke="#111" stroke-width="0.18">Frequency (%)</text>
<path d="M339.40 224.60 h16.5" stroke="#ff2a2a" stroke-width="1" fill="none" stroke-dasharray="3 1 .8 1"/>
<text x="360.00" y="227.00" font-size="7.05" fill="#ff2a2a" stroke="#ff2a2a" stroke-width="0.12">Normal distribution</text>
<path d="M339.40 234.60 h16.5" stroke="#1e9a1e" stroke-width="1" fill="none" stroke-dasharray="3 1 .8 1 .8 1"/>
<text x="360.00" y="237.00" font-size="7.05" fill="#1e9a1e" stroke="#1e9a1e" stroke-width="0.12">Lognormal distribution</text>
<path d="M339.40 244.60 h16.5" stroke="#ff8c1a" stroke-width="1" fill="none"/>
<text x="360.00" y="247.00" font-size="7.05" fill="#ff8c1a" stroke="#ff8c1a" stroke-width="0.12">Extreme value distribution</text>
<path d="M339.40 253.70 h16.5" stroke="#c828e6" stroke-width="1" fill="none" stroke-dasharray="3.2 2.4"/>
<text x="360.00" y="256.10" font-size="7.05" fill="#c828e6" stroke="#c828e6" stroke-width="0.12">Sine wave distribution</text>
<text x="430.50" y="420.50" font-size="11.5" font-weight="bold" text-anchor="middle" textLength="14.5" lengthAdjust="spacingAndGlyphs" fill="#111">(d)</text>
</g>
</g>
</svg>
</body></html>
